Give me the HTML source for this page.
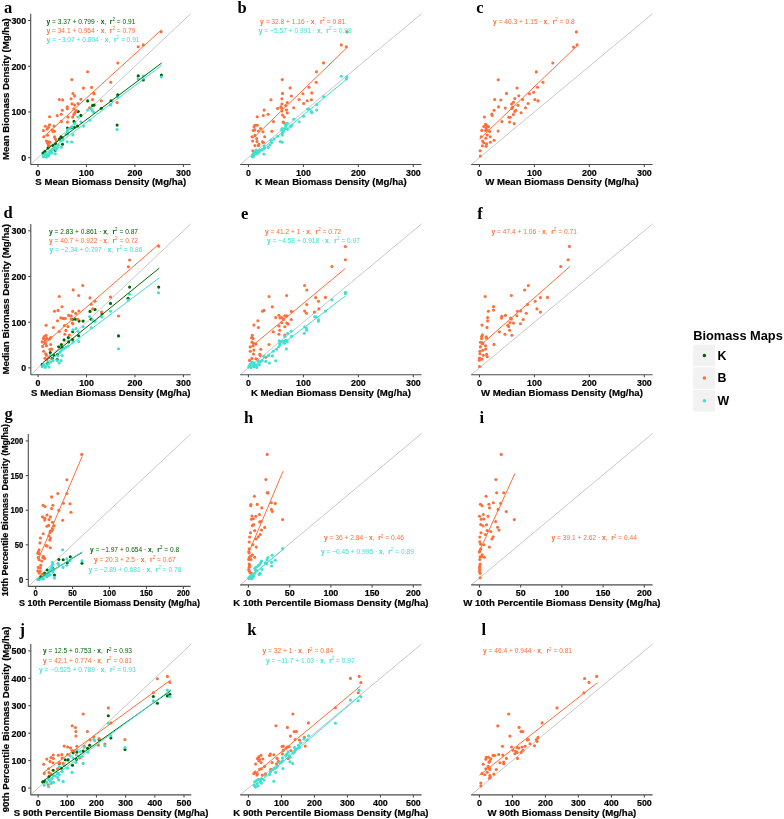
<!DOCTYPE html>
<html><head><meta charset="utf-8"><style>
html,body{margin:0;padding:0;background:#fff;}
svg{display:block;}
text{font-family:"Liberation Sans",Arial,sans-serif;}
.tk{font-size:9.4px;font-weight:bold;fill:#000;stroke:#000;stroke-width:0.2px;}
.tt{font-size:9.65px;font-weight:bold;fill:#000;stroke:#000;stroke-width:0.2px;}
.eq{font-size:7.3px;white-space:pre;}
.lab{font-family:"Liberation Serif","Times New Roman",serif;font-size:16.5px;font-weight:bold;fill:#000;}
.lt{font-size:12.8px;font-weight:bold;fill:#000;}
.lk{font-size:12.4px;font-weight:bold;fill:#000;}
</style></head><body>
<svg width="784" height="819" viewBox="0 0 784 819">
<rect width="784" height="819" fill="#fff"/>
<line x1="30.70" y1="164.50" x2="190.70" y2="13.70" stroke="#b5b5b5" stroke-width="0.75"/>
<circle cx="138.2" cy="75.9" r="1.55" fill="#006400"/>
<circle cx="143.3" cy="80.0" r="1.55" fill="#006400"/>
<circle cx="161.4" cy="75.1" r="1.55" fill="#006400"/>
<circle cx="87.6" cy="100.9" r="1.55" fill="#006400"/>
<circle cx="92.5" cy="105.5" r="1.55" fill="#006400"/>
<circle cx="94.1" cy="105.1" r="1.55" fill="#006400"/>
<circle cx="78.2" cy="111.5" r="1.55" fill="#006400"/>
<circle cx="80.9" cy="115.4" r="1.55" fill="#006400"/>
<circle cx="74.0" cy="121.4" r="1.55" fill="#006400"/>
<circle cx="67.5" cy="128.0" r="1.55" fill="#006400"/>
<circle cx="71.7" cy="127.7" r="1.55" fill="#006400"/>
<circle cx="74.4" cy="127.3" r="1.55" fill="#006400"/>
<circle cx="77.5" cy="126.1" r="1.55" fill="#006400"/>
<circle cx="67.1" cy="133.8" r="1.55" fill="#006400"/>
<circle cx="61.0" cy="136.7" r="1.55" fill="#006400"/>
<circle cx="62.1" cy="137.8" r="1.55" fill="#006400"/>
<circle cx="59.5" cy="139.0" r="1.55" fill="#006400"/>
<circle cx="62.5" cy="144.3" r="1.55" fill="#006400"/>
<circle cx="53.0" cy="145.6" r="1.55" fill="#006400"/>
<circle cx="55.6" cy="143.7" r="1.55" fill="#006400"/>
<circle cx="48.0" cy="147.9" r="1.55" fill="#006400"/>
<circle cx="44.9" cy="151.4" r="1.55" fill="#006400"/>
<circle cx="43.0" cy="153.1" r="1.55" fill="#006400"/>
<circle cx="55.3" cy="150.2" r="1.55" fill="#006400"/>
<circle cx="111.0" cy="100.8" r="1.55" fill="#006400"/>
<circle cx="117.7" cy="94.9" r="1.55" fill="#006400"/>
<circle cx="101.3" cy="108.3" r="1.55" fill="#006400"/>
<circle cx="117.1" cy="125.1" r="1.55" fill="#006400"/>
<circle cx="161.2" cy="31.7" r="1.55" fill="#FF6D38"/>
<circle cx="138.2" cy="46.8" r="1.55" fill="#FF6D38"/>
<circle cx="143.3" cy="44.9" r="1.55" fill="#FF6D38"/>
<circle cx="117.8" cy="63.0" r="1.55" fill="#FF6D38"/>
<circle cx="87.6" cy="71.7" r="1.55" fill="#FF6D38"/>
<circle cx="71.9" cy="79.6" r="1.55" fill="#FF6D38"/>
<circle cx="110.8" cy="82.2" r="1.55" fill="#FF6D38"/>
<circle cx="83.4" cy="88.1" r="1.55" fill="#FF6D38"/>
<circle cx="91.6" cy="87.4" r="1.55" fill="#FF6D38"/>
<circle cx="72.9" cy="93.5" r="1.55" fill="#FF6D38"/>
<circle cx="74.5" cy="95.9" r="1.55" fill="#FF6D38"/>
<circle cx="93.6" cy="93.0" r="1.55" fill="#FF6D38"/>
<circle cx="94.1" cy="93.8" r="1.55" fill="#FF6D38"/>
<circle cx="59.3" cy="99.5" r="1.55" fill="#FF6D38"/>
<circle cx="62.6" cy="99.9" r="1.55" fill="#FF6D38"/>
<circle cx="71.1" cy="98.7" r="1.55" fill="#FF6D38"/>
<circle cx="80.9" cy="99.3" r="1.55" fill="#FF6D38"/>
<circle cx="92.5" cy="99.5" r="1.55" fill="#FF6D38"/>
<circle cx="72.0" cy="103.9" r="1.55" fill="#FF6D38"/>
<circle cx="74.6" cy="105.1" r="1.55" fill="#FF6D38"/>
<circle cx="78.0" cy="103.6" r="1.55" fill="#FF6D38"/>
<circle cx="67.3" cy="106.7" r="1.55" fill="#FF6D38"/>
<circle cx="67.3" cy="108.7" r="1.55" fill="#FF6D38"/>
<circle cx="73.8" cy="108.7" r="1.55" fill="#FF6D38"/>
<circle cx="62.3" cy="110.2" r="1.55" fill="#FF6D38"/>
<circle cx="76.4" cy="110.5" r="1.55" fill="#FF6D38"/>
<circle cx="75.5" cy="111.8" r="1.55" fill="#FF6D38"/>
<circle cx="74.6" cy="113.1" r="1.55" fill="#FF6D38"/>
<circle cx="73.8" cy="114.5" r="1.55" fill="#FF6D38"/>
<circle cx="61.2" cy="114.2" r="1.55" fill="#FF6D38"/>
<circle cx="57.2" cy="115.6" r="1.55" fill="#FF6D38"/>
<circle cx="49.6" cy="116.7" r="1.55" fill="#FF6D38"/>
<circle cx="72.7" cy="117.1" r="1.55" fill="#FF6D38"/>
<circle cx="68.0" cy="117.1" r="1.55" fill="#FF6D38"/>
<circle cx="89.6" cy="107.8" r="1.55" fill="#FF6D38"/>
<circle cx="61.4" cy="121.4" r="1.55" fill="#FF6D38"/>
<circle cx="67.5" cy="122.1" r="1.55" fill="#FF6D38"/>
<circle cx="45.3" cy="126.3" r="1.55" fill="#FF6D38"/>
<circle cx="49.5" cy="124.7" r="1.55" fill="#FF6D38"/>
<circle cx="48.4" cy="127.3" r="1.55" fill="#FF6D38"/>
<circle cx="47.2" cy="129.0" r="1.55" fill="#FF6D38"/>
<circle cx="54.1" cy="126.1" r="1.55" fill="#FF6D38"/>
<circle cx="52.2" cy="129.8" r="1.55" fill="#FF6D38"/>
<circle cx="54.5" cy="131.3" r="1.55" fill="#FF6D38"/>
<circle cx="53.0" cy="131.5" r="1.55" fill="#FF6D38"/>
<circle cx="43.4" cy="130.6" r="1.55" fill="#FF6D38"/>
<circle cx="43.8" cy="136.7" r="1.55" fill="#FF6D38"/>
<circle cx="47.6" cy="135.3" r="1.55" fill="#FF6D38"/>
<circle cx="54.5" cy="136.8" r="1.55" fill="#FF6D38"/>
<circle cx="55.3" cy="138.8" r="1.55" fill="#FF6D38"/>
<circle cx="46.5" cy="141.1" r="1.55" fill="#FF6D38"/>
<circle cx="48.8" cy="141.8" r="1.55" fill="#FF6D38"/>
<circle cx="49.9" cy="142.2" r="1.55" fill="#FF6D38"/>
<circle cx="47.6" cy="143.3" r="1.55" fill="#FF6D38"/>
<circle cx="48.4" cy="144.9" r="1.55" fill="#FF6D38"/>
<circle cx="49.5" cy="146.0" r="1.55" fill="#FF6D38"/>
<circle cx="56.4" cy="140.7" r="1.55" fill="#FF6D38"/>
<circle cx="101.3" cy="100.8" r="1.55" fill="#FF6D38"/>
<circle cx="117.1" cy="102.5" r="1.55" fill="#FF6D38"/>
<circle cx="143.3" cy="76.1" r="1.55" fill="#40E0D0"/>
<circle cx="138.2" cy="78.9" r="1.55" fill="#40E0D0"/>
<circle cx="161.4" cy="77.0" r="1.55" fill="#40E0D0"/>
<circle cx="87.6" cy="110.0" r="1.55" fill="#40E0D0"/>
<circle cx="91.4" cy="109.1" r="1.55" fill="#40E0D0"/>
<circle cx="92.5" cy="110.9" r="1.55" fill="#40E0D0"/>
<circle cx="93.6" cy="112.2" r="1.55" fill="#40E0D0"/>
<circle cx="78.0" cy="117.0" r="1.55" fill="#40E0D0"/>
<circle cx="89.8" cy="120.3" r="1.55" fill="#40E0D0"/>
<circle cx="80.9" cy="121.7" r="1.55" fill="#40E0D0"/>
<circle cx="83.6" cy="126.1" r="1.55" fill="#40E0D0"/>
<circle cx="74.8" cy="123.4" r="1.55" fill="#40E0D0"/>
<circle cx="72.1" cy="126.9" r="1.55" fill="#40E0D0"/>
<circle cx="69.8" cy="128.4" r="1.55" fill="#40E0D0"/>
<circle cx="67.5" cy="129.9" r="1.55" fill="#40E0D0"/>
<circle cx="72.9" cy="134.9" r="1.55" fill="#40E0D0"/>
<circle cx="67.5" cy="131.5" r="1.55" fill="#40E0D0"/>
<circle cx="66.0" cy="134.2" r="1.55" fill="#40E0D0"/>
<circle cx="67.1" cy="141.8" r="1.55" fill="#40E0D0"/>
<circle cx="71.7" cy="142.0" r="1.55" fill="#40E0D0"/>
<circle cx="62.9" cy="139.9" r="1.55" fill="#40E0D0"/>
<circle cx="60.6" cy="140.7" r="1.55" fill="#40E0D0"/>
<circle cx="58.3" cy="145.3" r="1.55" fill="#40E0D0"/>
<circle cx="61.4" cy="147.2" r="1.55" fill="#40E0D0"/>
<circle cx="57.2" cy="147.6" r="1.55" fill="#40E0D0"/>
<circle cx="54.5" cy="147.2" r="1.55" fill="#40E0D0"/>
<circle cx="56.0" cy="149.5" r="1.55" fill="#40E0D0"/>
<circle cx="53.0" cy="149.1" r="1.55" fill="#40E0D0"/>
<circle cx="51.4" cy="150.6" r="1.55" fill="#40E0D0"/>
<circle cx="49.9" cy="152.1" r="1.55" fill="#40E0D0"/>
<circle cx="48.4" cy="153.7" r="1.55" fill="#40E0D0"/>
<circle cx="46.8" cy="155.2" r="1.55" fill="#40E0D0"/>
<circle cx="45.3" cy="153.7" r="1.55" fill="#40E0D0"/>
<circle cx="43.8" cy="155.2" r="1.55" fill="#40E0D0"/>
<circle cx="43.4" cy="156.7" r="1.55" fill="#40E0D0"/>
<circle cx="46.5" cy="157.1" r="1.55" fill="#40E0D0"/>
<circle cx="49.1" cy="154.8" r="1.55" fill="#40E0D0"/>
<circle cx="51.8" cy="152.9" r="1.55" fill="#40E0D0"/>
<circle cx="55.3" cy="153.7" r="1.55" fill="#40E0D0"/>
<circle cx="45.7" cy="156.0" r="1.55" fill="#40E0D0"/>
<circle cx="48.4" cy="156.0" r="1.55" fill="#40E0D0"/>
<circle cx="110.5" cy="104.9" r="1.55" fill="#40E0D0"/>
<circle cx="117.7" cy="97.0" r="1.55" fill="#40E0D0"/>
<circle cx="117.1" cy="129.6" r="1.55" fill="#40E0D0"/>
<line x1="42.82" y1="137.66" x2="161.61" y2="29.73" stroke="#FF6D38" stroke-width="1"/>
<line x1="42.82" y1="152.45" x2="161.61" y2="63.00" stroke="#006400" stroke-width="1"/>
<line x1="42.82" y1="155.37" x2="161.61" y2="65.36" stroke="#40E0D0" stroke-width="1"/>
<line x1="30.70" y1="164.50" x2="190.70" y2="164.50" stroke="#4d4d4d" stroke-width="1.1"/>
<line x1="37.97" y1="164.50" x2="37.97" y2="167.10" stroke="#4d4d4d" stroke-width="1.1"/>
<text transform="translate(37.97 175.60) scale(0.945 1)" text-anchor="middle" class="tk">0</text>
<line x1="86.46" y1="164.50" x2="86.46" y2="167.10" stroke="#4d4d4d" stroke-width="1.1"/>
<text transform="translate(86.46 175.60) scale(0.945 1)" text-anchor="middle" class="tk">100</text>
<line x1="134.94" y1="164.50" x2="134.94" y2="167.10" stroke="#4d4d4d" stroke-width="1.1"/>
<text transform="translate(134.94 175.60) scale(0.945 1)" text-anchor="middle" class="tk">200</text>
<line x1="183.43" y1="164.50" x2="183.43" y2="167.10" stroke="#4d4d4d" stroke-width="1.1"/>
<text transform="translate(183.43 175.60) scale(0.945 1)" text-anchor="middle" class="tk">300</text>
<text transform="translate(110.70 185.30) scale(1.0 1)" text-anchor="middle" class="tt">S Mean Biomass Density (Mg/ha)</text>
<line x1="30.70" y1="164.50" x2="30.70" y2="13.70" stroke="#4d4d4d" stroke-width="1.1"/>
<line x1="28.10" y1="157.65" x2="30.70" y2="157.65" stroke="#4d4d4d" stroke-width="1.1"/>
<text transform="translate(26.20 161.15) scale(0.945 1)" text-anchor="end" class="tk">0</text>
<line x1="28.10" y1="111.95" x2="30.70" y2="111.95" stroke="#4d4d4d" stroke-width="1.1"/>
<text transform="translate(26.20 115.45) scale(0.945 1)" text-anchor="end" class="tk">100</text>
<line x1="28.10" y1="66.25" x2="30.70" y2="66.25" stroke="#4d4d4d" stroke-width="1.1"/>
<text transform="translate(26.20 69.75) scale(0.945 1)" text-anchor="end" class="tk">200</text>
<line x1="28.10" y1="20.55" x2="30.70" y2="20.55" stroke="#4d4d4d" stroke-width="1.1"/>
<text transform="translate(26.20 24.05) scale(0.945 1)" text-anchor="end" class="tk">300</text>
<text transform="translate(8.6 89.10) rotate(-90) scale(1.0 1)" text-anchor="middle" class="tt">Mean Biomass Density (Mg/ha)</text>
<text transform="translate(46.4 23.8) scale(0.91 1)" class="eq" fill="#006400"><tspan font-weight="bold">y</tspan> = 3.37 + 0.799 · <tspan font-weight="bold">x</tspan>,  <tspan font-weight="bold">r</tspan><tspan dy="-2.9" font-size="5.0">2</tspan><tspan dy="2.9"> = 0.91</tspan></text>
<text transform="translate(46.4 32.9) scale(0.91 1)" class="eq" fill="#FF6D38"><tspan font-weight="bold">y</tspan> = 34.1 + 0.964 · <tspan font-weight="bold">x</tspan>,  <tspan font-weight="bold">r</tspan><tspan dy="-2.9" font-size="5.0">2</tspan><tspan dy="2.9"> = 0.79</tspan></text>
<text transform="translate(46.6 41.9) scale(0.91 1)" class="eq" fill="#40E0D0"><tspan font-weight="bold">y</tspan> = −3.07 + 0.804 · <tspan font-weight="bold">x</tspan>,  <tspan font-weight="bold">r</tspan><tspan dy="-2.9" font-size="5.0">2</tspan><tspan dy="2.9"> = 0.91</tspan></text>
<text x="4.0" y="12.9" class="lab">a</text>
<line x1="240.20" y1="164.50" x2="421.60" y2="13.70" stroke="#b5b5b5" stroke-width="0.75"/>
<circle cx="346.9" cy="31.9" r="1.55" fill="#FF6D38"/>
<circle cx="341.3" cy="44.9" r="1.55" fill="#FF6D38"/>
<circle cx="346.3" cy="46.8" r="1.55" fill="#FF6D38"/>
<circle cx="323.5" cy="62.9" r="1.55" fill="#FF6D38"/>
<circle cx="316.5" cy="71.7" r="1.55" fill="#FF6D38"/>
<circle cx="282.2" cy="79.6" r="1.55" fill="#FF6D38"/>
<circle cx="316.2" cy="82.2" r="1.55" fill="#FF6D38"/>
<circle cx="290.1" cy="87.9" r="1.55" fill="#FF6D38"/>
<circle cx="309.0" cy="87.3" r="1.55" fill="#FF6D38"/>
<circle cx="282.5" cy="93.4" r="1.55" fill="#FF6D38"/>
<circle cx="291.4" cy="96.0" r="1.55" fill="#FF6D38"/>
<circle cx="302.9" cy="93.7" r="1.55" fill="#FF6D38"/>
<circle cx="311.8" cy="92.9" r="1.55" fill="#FF6D38"/>
<circle cx="271.0" cy="99.8" r="1.55" fill="#FF6D38"/>
<circle cx="281.9" cy="98.7" r="1.55" fill="#FF6D38"/>
<circle cx="299.1" cy="99.5" r="1.55" fill="#FF6D38"/>
<circle cx="307.2" cy="100.8" r="1.55" fill="#FF6D38"/>
<circle cx="311.4" cy="99.7" r="1.55" fill="#FF6D38"/>
<circle cx="303.7" cy="103.5" r="1.55" fill="#FF6D38"/>
<circle cx="281.9" cy="104.0" r="1.55" fill="#FF6D38"/>
<circle cx="287.3" cy="102.6" r="1.55" fill="#FF6D38"/>
<circle cx="285.7" cy="105.5" r="1.55" fill="#FF6D38"/>
<circle cx="280.8" cy="106.9" r="1.55" fill="#FF6D38"/>
<circle cx="281.6" cy="108.1" r="1.55" fill="#FF6D38"/>
<circle cx="277.6" cy="108.4" r="1.55" fill="#FF6D38"/>
<circle cx="293.7" cy="107.7" r="1.55" fill="#FF6D38"/>
<circle cx="264.1" cy="110.1" r="1.55" fill="#FF6D38"/>
<circle cx="286.5" cy="110.1" r="1.55" fill="#FF6D38"/>
<circle cx="287.3" cy="113.0" r="1.55" fill="#FF6D38"/>
<circle cx="281.9" cy="110.9" r="1.55" fill="#FF6D38"/>
<circle cx="268.1" cy="114.2" r="1.55" fill="#FF6D38"/>
<circle cx="263.3" cy="115.5" r="1.55" fill="#FF6D38"/>
<circle cx="257.2" cy="116.7" r="1.55" fill="#FF6D38"/>
<circle cx="282.5" cy="115.0" r="1.55" fill="#FF6D38"/>
<circle cx="284.2" cy="117.0" r="1.55" fill="#FF6D38"/>
<circle cx="273.5" cy="121.6" r="1.55" fill="#FF6D38"/>
<circle cx="283.1" cy="122.1" r="1.55" fill="#FF6D38"/>
<circle cx="284.2" cy="123.0" r="1.55" fill="#FF6D38"/>
<circle cx="254.9" cy="125.3" r="1.55" fill="#FF6D38"/>
<circle cx="257.2" cy="125.3" r="1.55" fill="#FF6D38"/>
<circle cx="254.0" cy="127.0" r="1.55" fill="#FF6D38"/>
<circle cx="260.7" cy="128.5" r="1.55" fill="#FF6D38"/>
<circle cx="254.7" cy="129.9" r="1.55" fill="#FF6D38"/>
<circle cx="253.2" cy="130.5" r="1.55" fill="#FF6D38"/>
<circle cx="258.4" cy="131.0" r="1.55" fill="#FF6D38"/>
<circle cx="263.0" cy="131.8" r="1.55" fill="#FF6D38"/>
<circle cx="271.9" cy="131.3" r="1.55" fill="#FF6D38"/>
<circle cx="252.1" cy="136.8" r="1.55" fill="#FF6D38"/>
<circle cx="254.9" cy="135.4" r="1.55" fill="#FF6D38"/>
<circle cx="264.7" cy="136.8" r="1.55" fill="#FF6D38"/>
<circle cx="256.6" cy="138.5" r="1.55" fill="#FF6D38"/>
<circle cx="252.6" cy="141.1" r="1.55" fill="#FF6D38"/>
<circle cx="257.0" cy="141.4" r="1.55" fill="#FF6D38"/>
<circle cx="262.4" cy="141.9" r="1.55" fill="#FF6D38"/>
<circle cx="263.5" cy="142.5" r="1.55" fill="#FF6D38"/>
<circle cx="258.9" cy="144.2" r="1.55" fill="#FF6D38"/>
<circle cx="254.9" cy="145.6" r="1.55" fill="#FF6D38"/>
<circle cx="258.4" cy="145.7" r="1.55" fill="#FF6D38"/>
<circle cx="252.9" cy="150.8" r="1.55" fill="#FF6D38"/>
<circle cx="341.3" cy="76.3" r="1.55" fill="#40E0D0"/>
<circle cx="346.9" cy="76.9" r="1.55" fill="#40E0D0"/>
<circle cx="346.3" cy="79.0" r="1.55" fill="#40E0D0"/>
<circle cx="323.6" cy="96.6" r="1.55" fill="#40E0D0"/>
<circle cx="316.7" cy="104.6" r="1.55" fill="#40E0D0"/>
<circle cx="316.7" cy="110.1" r="1.55" fill="#40E0D0"/>
<circle cx="307.7" cy="109.0" r="1.55" fill="#40E0D0"/>
<circle cx="309.1" cy="109.2" r="1.55" fill="#40E0D0"/>
<circle cx="311.4" cy="111.5" r="1.55" fill="#40E0D0"/>
<circle cx="311.8" cy="112.7" r="1.55" fill="#40E0D0"/>
<circle cx="303.7" cy="116.3" r="1.55" fill="#40E0D0"/>
<circle cx="299.1" cy="121.8" r="1.55" fill="#40E0D0"/>
<circle cx="293.7" cy="119.3" r="1.55" fill="#40E0D0"/>
<circle cx="291.7" cy="125.3" r="1.55" fill="#40E0D0"/>
<circle cx="290.5" cy="126.4" r="1.55" fill="#40E0D0"/>
<circle cx="287.3" cy="123.2" r="1.55" fill="#40E0D0"/>
<circle cx="285.7" cy="124.7" r="1.55" fill="#40E0D0"/>
<circle cx="285.9" cy="126.4" r="1.55" fill="#40E0D0"/>
<circle cx="287.6" cy="129.3" r="1.55" fill="#40E0D0"/>
<circle cx="282.2" cy="128.5" r="1.55" fill="#40E0D0"/>
<circle cx="281.6" cy="129.9" r="1.55" fill="#40E0D0"/>
<circle cx="283.4" cy="131.6" r="1.55" fill="#40E0D0"/>
<circle cx="282.5" cy="132.8" r="1.55" fill="#40E0D0"/>
<circle cx="282.2" cy="135.1" r="1.55" fill="#40E0D0"/>
<circle cx="284.8" cy="128.7" r="1.55" fill="#40E0D0"/>
<circle cx="277.6" cy="136.2" r="1.55" fill="#40E0D0"/>
<circle cx="274.0" cy="139.1" r="1.55" fill="#40E0D0"/>
<circle cx="271.0" cy="140.2" r="1.55" fill="#40E0D0"/>
<circle cx="271.6" cy="142.5" r="1.55" fill="#40E0D0"/>
<circle cx="270.1" cy="145.0" r="1.55" fill="#40E0D0"/>
<circle cx="268.1" cy="147.4" r="1.55" fill="#40E0D0"/>
<circle cx="280.2" cy="141.6" r="1.55" fill="#40E0D0"/>
<circle cx="282.2" cy="142.3" r="1.55" fill="#40E0D0"/>
<circle cx="264.1" cy="145.9" r="1.55" fill="#40E0D0"/>
<circle cx="264.7" cy="148.2" r="1.55" fill="#40E0D0"/>
<circle cx="263.0" cy="149.2" r="1.55" fill="#40E0D0"/>
<circle cx="261.2" cy="150.0" r="1.55" fill="#40E0D0"/>
<circle cx="259.5" cy="150.6" r="1.55" fill="#40E0D0"/>
<circle cx="257.2" cy="151.1" r="1.55" fill="#40E0D0"/>
<circle cx="256.1" cy="150.0" r="1.55" fill="#40E0D0"/>
<circle cx="254.9" cy="151.7" r="1.55" fill="#40E0D0"/>
<circle cx="253.8" cy="152.8" r="1.55" fill="#40E0D0"/>
<circle cx="252.6" cy="154.6" r="1.55" fill="#40E0D0"/>
<circle cx="252.1" cy="156.3" r="1.55" fill="#40E0D0"/>
<circle cx="254.3" cy="155.1" r="1.55" fill="#40E0D0"/>
<circle cx="257.2" cy="154.0" r="1.55" fill="#40E0D0"/>
<circle cx="258.9" cy="152.3" r="1.55" fill="#40E0D0"/>
<circle cx="263.9" cy="154.0" r="1.55" fill="#40E0D0"/>
<circle cx="256.1" cy="152.8" r="1.55" fill="#40E0D0"/>
<circle cx="253.2" cy="156.9" r="1.55" fill="#40E0D0"/>
<line x1="252.84" y1="138.42" x2="347.39" y2="47.24" stroke="#FF6D38" stroke-width="1"/>
<line x1="252.84" y1="156.57" x2="347.39" y2="78.68" stroke="#40E0D0" stroke-width="1"/>
<line x1="240.20" y1="164.50" x2="421.60" y2="164.50" stroke="#4d4d4d" stroke-width="1.1"/>
<line x1="248.45" y1="164.50" x2="248.45" y2="167.10" stroke="#4d4d4d" stroke-width="1.1"/>
<text transform="translate(248.45 175.60) scale(0.945 1)" text-anchor="middle" class="tk">0</text>
<line x1="303.42" y1="164.50" x2="303.42" y2="167.10" stroke="#4d4d4d" stroke-width="1.1"/>
<text transform="translate(303.42 175.60) scale(0.945 1)" text-anchor="middle" class="tk">100</text>
<line x1="358.38" y1="164.50" x2="358.38" y2="167.10" stroke="#4d4d4d" stroke-width="1.1"/>
<text transform="translate(358.38 175.60) scale(0.945 1)" text-anchor="middle" class="tk">200</text>
<line x1="413.35" y1="164.50" x2="413.35" y2="167.10" stroke="#4d4d4d" stroke-width="1.1"/>
<text transform="translate(413.35 175.60) scale(0.945 1)" text-anchor="middle" class="tk">300</text>
<text transform="translate(330.90 185.30) scale(1.0 1)" text-anchor="middle" class="tt">K Mean Biomass Density (Mg/ha)</text>
<text transform="translate(260.1 23.8) scale(0.91 1)" class="eq" fill="#FF6D38"><tspan font-weight="bold">y</tspan> = 32.8 + 1.16 · <tspan font-weight="bold">x</tspan>,  <tspan font-weight="bold">r</tspan><tspan dy="-2.9" font-size="5.0">2</tspan><tspan dy="2.9"> = 0.81</tspan></text>
<text transform="translate(258.8 32.9) scale(0.91 1)" class="eq" fill="#40E0D0"><tspan font-weight="bold">y</tspan> = −5.57 + 0.991 · <tspan font-weight="bold">x</tspan>,  <tspan font-weight="bold">r</tspan><tspan dy="-2.9" font-size="5.0">2</tspan><tspan dy="2.9"> = 0.98</tspan></text>
<text x="237.6" y="12.8" class="lab">b</text>
<line x1="471.20" y1="164.50" x2="652.60" y2="13.70" stroke="#b5b5b5" stroke-width="0.75"/>
<circle cx="576.4" cy="31.9" r="1.55" fill="#FF6D38"/>
<circle cx="573.6" cy="47.1" r="1.55" fill="#FF6D38"/>
<circle cx="577.1" cy="44.8" r="1.55" fill="#FF6D38"/>
<circle cx="552.8" cy="63.0" r="1.55" fill="#FF6D38"/>
<circle cx="536.3" cy="71.9" r="1.55" fill="#FF6D38"/>
<circle cx="498.2" cy="79.7" r="1.55" fill="#FF6D38"/>
<circle cx="543.0" cy="82.3" r="1.55" fill="#FF6D38"/>
<circle cx="517.0" cy="88.0" r="1.55" fill="#FF6D38"/>
<circle cx="537.5" cy="87.3" r="1.55" fill="#FF6D38"/>
<circle cx="506.5" cy="93.4" r="1.55" fill="#FF6D38"/>
<circle cx="518.8" cy="95.7" r="1.55" fill="#FF6D38"/>
<circle cx="533.7" cy="92.3" r="1.55" fill="#FF6D38"/>
<circle cx="529.5" cy="93.8" r="1.55" fill="#FF6D38"/>
<circle cx="494.7" cy="99.5" r="1.55" fill="#FF6D38"/>
<circle cx="500.8" cy="100.0" r="1.55" fill="#FF6D38"/>
<circle cx="514.8" cy="98.6" r="1.55" fill="#FF6D38"/>
<circle cx="522.6" cy="99.5" r="1.55" fill="#FF6D38"/>
<circle cx="534.9" cy="99.5" r="1.55" fill="#FF6D38"/>
<circle cx="538.0" cy="100.9" r="1.55" fill="#FF6D38"/>
<circle cx="513.4" cy="102.3" r="1.55" fill="#FF6D38"/>
<circle cx="511.6" cy="104.0" r="1.55" fill="#FF6D38"/>
<circle cx="518.0" cy="105.2" r="1.55" fill="#FF6D38"/>
<circle cx="528.1" cy="103.5" r="1.55" fill="#FF6D38"/>
<circle cx="498.5" cy="106.9" r="1.55" fill="#FF6D38"/>
<circle cx="505.2" cy="108.1" r="1.55" fill="#FF6D38"/>
<circle cx="512.5" cy="107.2" r="1.55" fill="#FF6D38"/>
<circle cx="511.9" cy="108.6" r="1.55" fill="#FF6D38"/>
<circle cx="525.5" cy="107.8" r="1.55" fill="#FF6D38"/>
<circle cx="494.1" cy="110.3" r="1.55" fill="#FF6D38"/>
<circle cx="515.9" cy="110.3" r="1.55" fill="#FF6D38"/>
<circle cx="514.8" cy="111.5" r="1.55" fill="#FF6D38"/>
<circle cx="521.1" cy="112.7" r="1.55" fill="#FF6D38"/>
<circle cx="491.8" cy="114.1" r="1.55" fill="#FF6D38"/>
<circle cx="492.2" cy="115.5" r="1.55" fill="#FF6D38"/>
<circle cx="513.3" cy="114.5" r="1.55" fill="#FF6D38"/>
<circle cx="484.4" cy="117.0" r="1.55" fill="#FF6D38"/>
<circle cx="508.8" cy="117.2" r="1.55" fill="#FF6D38"/>
<circle cx="510.2" cy="117.2" r="1.55" fill="#FF6D38"/>
<circle cx="501.9" cy="121.6" r="1.55" fill="#FF6D38"/>
<circle cx="509.6" cy="122.1" r="1.55" fill="#FF6D38"/>
<circle cx="514.2" cy="123.6" r="1.55" fill="#FF6D38"/>
<circle cx="485.5" cy="124.4" r="1.55" fill="#FF6D38"/>
<circle cx="483.8" cy="126.5" r="1.55" fill="#FF6D38"/>
<circle cx="487.2" cy="125.8" r="1.55" fill="#FF6D38"/>
<circle cx="488.4" cy="126.7" r="1.55" fill="#FF6D38"/>
<circle cx="486.1" cy="127.9" r="1.55" fill="#FF6D38"/>
<circle cx="481.8" cy="130.4" r="1.55" fill="#FF6D38"/>
<circle cx="485.5" cy="130.4" r="1.55" fill="#FF6D38"/>
<circle cx="487.4" cy="130.2" r="1.55" fill="#FF6D38"/>
<circle cx="489.7" cy="131.6" r="1.55" fill="#FF6D38"/>
<circle cx="498.1" cy="131.1" r="1.55" fill="#FF6D38"/>
<circle cx="481.2" cy="136.8" r="1.55" fill="#FF6D38"/>
<circle cx="487.2" cy="135.1" r="1.55" fill="#FF6D38"/>
<circle cx="490.3" cy="136.8" r="1.55" fill="#FF6D38"/>
<circle cx="485.8" cy="138.2" r="1.55" fill="#FF6D38"/>
<circle cx="482.6" cy="141.1" r="1.55" fill="#FF6D38"/>
<circle cx="494.1" cy="140.3" r="1.55" fill="#FF6D38"/>
<circle cx="483.8" cy="142.8" r="1.55" fill="#FF6D38"/>
<circle cx="486.6" cy="143.9" r="1.55" fill="#FF6D38"/>
<circle cx="490.3" cy="142.2" r="1.55" fill="#FF6D38"/>
<circle cx="482.4" cy="145.7" r="1.55" fill="#FF6D38"/>
<circle cx="486.1" cy="146.2" r="1.55" fill="#FF6D38"/>
<circle cx="480.1" cy="150.8" r="1.55" fill="#FF6D38"/>
<circle cx="480.3" cy="156.0" r="1.55" fill="#FF6D38"/>
<line x1="479.45" y1="139.23" x2="577.29" y2="45.69" stroke="#FF6D38" stroke-width="1"/>
<line x1="471.20" y1="164.50" x2="652.60" y2="164.50" stroke="#4d4d4d" stroke-width="1.1"/>
<line x1="479.45" y1="164.50" x2="479.45" y2="167.10" stroke="#4d4d4d" stroke-width="1.1"/>
<text transform="translate(479.45 175.60) scale(0.945 1)" text-anchor="middle" class="tk">0</text>
<line x1="534.42" y1="164.50" x2="534.42" y2="167.10" stroke="#4d4d4d" stroke-width="1.1"/>
<text transform="translate(534.42 175.60) scale(0.945 1)" text-anchor="middle" class="tk">100</text>
<line x1="589.38" y1="164.50" x2="589.38" y2="167.10" stroke="#4d4d4d" stroke-width="1.1"/>
<text transform="translate(589.38 175.60) scale(0.945 1)" text-anchor="middle" class="tk">200</text>
<line x1="644.35" y1="164.50" x2="644.35" y2="167.10" stroke="#4d4d4d" stroke-width="1.1"/>
<text transform="translate(644.35 175.60) scale(0.945 1)" text-anchor="middle" class="tk">300</text>
<text transform="translate(561.90 185.30) scale(1.0 1)" text-anchor="middle" class="tt">W Mean Biomass Density (Mg/ha)</text>
<text transform="translate(493.0 23.8) scale(0.91 1)" class="eq" fill="#FF6D38"><tspan font-weight="bold">y</tspan> = 40.3 + 1.15 · <tspan font-weight="bold">x</tspan>,  <tspan font-weight="bold">r</tspan><tspan dy="-2.9" font-size="5.0">2</tspan><tspan dy="2.9"> = 0.8</tspan></text>
<text x="476.3" y="12.8" class="lab">c</text>
<line x1="30.80" y1="374.70" x2="190.70" y2="223.90" stroke="#b5b5b5" stroke-width="0.75"/>
<circle cx="129.6" cy="287.1" r="1.55" fill="#006400"/>
<circle cx="158.7" cy="287.1" r="1.55" fill="#006400"/>
<circle cx="90.0" cy="311.4" r="1.55" fill="#006400"/>
<circle cx="95.0" cy="309.5" r="1.55" fill="#006400"/>
<circle cx="72.7" cy="319.3" r="1.55" fill="#006400"/>
<circle cx="75.4" cy="319.3" r="1.55" fill="#006400"/>
<circle cx="79.1" cy="321.1" r="1.55" fill="#006400"/>
<circle cx="83.1" cy="321.1" r="1.55" fill="#006400"/>
<circle cx="91.2" cy="319.3" r="1.55" fill="#006400"/>
<circle cx="72.7" cy="331.8" r="1.55" fill="#006400"/>
<circle cx="68.3" cy="337.6" r="1.55" fill="#006400"/>
<circle cx="78.6" cy="335.7" r="1.55" fill="#006400"/>
<circle cx="64.1" cy="339.9" r="1.55" fill="#006400"/>
<circle cx="68.7" cy="341.9" r="1.55" fill="#006400"/>
<circle cx="72.5" cy="339.6" r="1.55" fill="#006400"/>
<circle cx="61.4" cy="344.5" r="1.55" fill="#006400"/>
<circle cx="58.7" cy="346.8" r="1.55" fill="#006400"/>
<circle cx="62.1" cy="347.2" r="1.55" fill="#006400"/>
<circle cx="50.3" cy="352.6" r="1.55" fill="#006400"/>
<circle cx="54.1" cy="355.6" r="1.55" fill="#006400"/>
<circle cx="57.5" cy="354.5" r="1.55" fill="#006400"/>
<circle cx="52.2" cy="358.3" r="1.55" fill="#006400"/>
<circle cx="57.2" cy="359.5" r="1.55" fill="#006400"/>
<circle cx="47.6" cy="362.9" r="1.55" fill="#006400"/>
<circle cx="42.2" cy="364.4" r="1.55" fill="#006400"/>
<circle cx="128.1" cy="298.2" r="1.55" fill="#006400"/>
<circle cx="110.5" cy="303.4" r="1.55" fill="#006400"/>
<circle cx="102.0" cy="313.7" r="1.55" fill="#006400"/>
<circle cx="118.5" cy="335.9" r="1.55" fill="#006400"/>
<circle cx="158.7" cy="246.3" r="1.55" fill="#FF6D38"/>
<circle cx="129.6" cy="260.0" r="1.55" fill="#FF6D38"/>
<circle cx="128.4" cy="266.7" r="1.55" fill="#FF6D38"/>
<circle cx="82.8" cy="285.5" r="1.55" fill="#FF6D38"/>
<circle cx="73.2" cy="289.9" r="1.55" fill="#FF6D38"/>
<circle cx="59.3" cy="296.5" r="1.55" fill="#FF6D38"/>
<circle cx="78.7" cy="295.5" r="1.55" fill="#FF6D38"/>
<circle cx="90.0" cy="297.9" r="1.55" fill="#FF6D38"/>
<circle cx="95.0" cy="301.2" r="1.55" fill="#FF6D38"/>
<circle cx="91.2" cy="304.3" r="1.55" fill="#FF6D38"/>
<circle cx="62.0" cy="306.8" r="1.55" fill="#FF6D38"/>
<circle cx="54.5" cy="311.2" r="1.55" fill="#FF6D38"/>
<circle cx="58.1" cy="310.4" r="1.55" fill="#FF6D38"/>
<circle cx="72.7" cy="311.4" r="1.55" fill="#FF6D38"/>
<circle cx="78.9" cy="311.0" r="1.55" fill="#FF6D38"/>
<circle cx="75.7" cy="313.4" r="1.55" fill="#FF6D38"/>
<circle cx="92.7" cy="308.9" r="1.55" fill="#FF6D38"/>
<circle cx="68.6" cy="315.4" r="1.55" fill="#FF6D38"/>
<circle cx="71.2" cy="315.9" r="1.55" fill="#FF6D38"/>
<circle cx="60.8" cy="317.9" r="1.55" fill="#FF6D38"/>
<circle cx="63.0" cy="318.4" r="1.55" fill="#FF6D38"/>
<circle cx="65.3" cy="318.4" r="1.55" fill="#FF6D38"/>
<circle cx="57.5" cy="320.8" r="1.55" fill="#FF6D38"/>
<circle cx="71.1" cy="319.0" r="1.55" fill="#FF6D38"/>
<circle cx="77.8" cy="319.3" r="1.55" fill="#FF6D38"/>
<circle cx="72.4" cy="323.0" r="1.55" fill="#FF6D38"/>
<circle cx="72.9" cy="323.8" r="1.55" fill="#FF6D38"/>
<circle cx="46.1" cy="325.3" r="1.55" fill="#FF6D38"/>
<circle cx="64.4" cy="325.5" r="1.55" fill="#FF6D38"/>
<circle cx="53.4" cy="327.5" r="1.55" fill="#FF6D38"/>
<circle cx="68.0" cy="326.6" r="1.55" fill="#FF6D38"/>
<circle cx="65.9" cy="330.4" r="1.55" fill="#FF6D38"/>
<circle cx="59.3" cy="331.5" r="1.55" fill="#FF6D38"/>
<circle cx="64.8" cy="334.2" r="1.55" fill="#FF6D38"/>
<circle cx="69.4" cy="335.0" r="1.55" fill="#FF6D38"/>
<circle cx="46.1" cy="335.4" r="1.55" fill="#FF6D38"/>
<circle cx="44.2" cy="336.5" r="1.55" fill="#FF6D38"/>
<circle cx="43.4" cy="338.4" r="1.55" fill="#FF6D38"/>
<circle cx="46.8" cy="338.4" r="1.55" fill="#FF6D38"/>
<circle cx="45.3" cy="339.9" r="1.55" fill="#FF6D38"/>
<circle cx="50.7" cy="337.6" r="1.55" fill="#FF6D38"/>
<circle cx="49.1" cy="339.2" r="1.55" fill="#FF6D38"/>
<circle cx="42.2" cy="341.9" r="1.55" fill="#FF6D38"/>
<circle cx="44.5" cy="342.2" r="1.55" fill="#FF6D38"/>
<circle cx="45.7" cy="343.8" r="1.55" fill="#FF6D38"/>
<circle cx="46.5" cy="345.7" r="1.55" fill="#FF6D38"/>
<circle cx="42.6" cy="346.4" r="1.55" fill="#FF6D38"/>
<circle cx="50.7" cy="344.5" r="1.55" fill="#FF6D38"/>
<circle cx="49.9" cy="349.5" r="1.55" fill="#FF6D38"/>
<circle cx="51.8" cy="349.1" r="1.55" fill="#FF6D38"/>
<circle cx="43.6" cy="351.3" r="1.55" fill="#FF6D38"/>
<circle cx="45.7" cy="353.7" r="1.55" fill="#FF6D38"/>
<circle cx="46.5" cy="355.3" r="1.55" fill="#FF6D38"/>
<circle cx="44.9" cy="358.3" r="1.55" fill="#FF6D38"/>
<circle cx="48.8" cy="357.6" r="1.55" fill="#FF6D38"/>
<circle cx="46.8" cy="359.5" r="1.55" fill="#FF6D38"/>
<circle cx="110.5" cy="297.1" r="1.55" fill="#FF6D38"/>
<circle cx="101.7" cy="312.0" r="1.55" fill="#FF6D38"/>
<circle cx="118.5" cy="316.0" r="1.55" fill="#FF6D38"/>
<circle cx="89.6" cy="316.6" r="1.55" fill="#40E0D0"/>
<circle cx="92.5" cy="319.9" r="1.55" fill="#40E0D0"/>
<circle cx="95.2" cy="321.4" r="1.55" fill="#40E0D0"/>
<circle cx="83.1" cy="326.8" r="1.55" fill="#40E0D0"/>
<circle cx="91.4" cy="327.7" r="1.55" fill="#40E0D0"/>
<circle cx="72.9" cy="329.7" r="1.55" fill="#40E0D0"/>
<circle cx="76.0" cy="328.6" r="1.55" fill="#40E0D0"/>
<circle cx="78.2" cy="331.5" r="1.55" fill="#40E0D0"/>
<circle cx="78.6" cy="341.5" r="1.55" fill="#40E0D0"/>
<circle cx="72.9" cy="342.2" r="1.55" fill="#40E0D0"/>
<circle cx="68.3" cy="346.1" r="1.55" fill="#40E0D0"/>
<circle cx="66.0" cy="347.2" r="1.55" fill="#40E0D0"/>
<circle cx="63.7" cy="348.8" r="1.55" fill="#40E0D0"/>
<circle cx="61.4" cy="350.3" r="1.55" fill="#40E0D0"/>
<circle cx="59.9" cy="352.2" r="1.55" fill="#40E0D0"/>
<circle cx="57.9" cy="356.0" r="1.55" fill="#40E0D0"/>
<circle cx="62.1" cy="355.6" r="1.55" fill="#40E0D0"/>
<circle cx="61.0" cy="360.6" r="1.55" fill="#40E0D0"/>
<circle cx="59.1" cy="362.9" r="1.55" fill="#40E0D0"/>
<circle cx="57.2" cy="360.6" r="1.55" fill="#40E0D0"/>
<circle cx="53.0" cy="360.6" r="1.55" fill="#40E0D0"/>
<circle cx="50.3" cy="355.3" r="1.55" fill="#40E0D0"/>
<circle cx="50.7" cy="362.1" r="1.55" fill="#40E0D0"/>
<circle cx="48.4" cy="363.7" r="1.55" fill="#40E0D0"/>
<circle cx="46.8" cy="365.2" r="1.55" fill="#40E0D0"/>
<circle cx="44.5" cy="366.0" r="1.55" fill="#40E0D0"/>
<circle cx="42.2" cy="366.7" r="1.55" fill="#40E0D0"/>
<circle cx="45.3" cy="367.5" r="1.55" fill="#40E0D0"/>
<circle cx="49.1" cy="367.1" r="1.55" fill="#40E0D0"/>
<circle cx="43.4" cy="364.8" r="1.55" fill="#40E0D0"/>
<circle cx="129.5" cy="294.2" r="1.55" fill="#40E0D0"/>
<circle cx="158.5" cy="292.8" r="1.55" fill="#40E0D0"/>
<circle cx="128.1" cy="300.1" r="1.55" fill="#40E0D0"/>
<circle cx="110.5" cy="311.2" r="1.55" fill="#40E0D0"/>
<circle cx="101.7" cy="316.9" r="1.55" fill="#40E0D0"/>
<circle cx="118.5" cy="348.7" r="1.55" fill="#40E0D0"/>
<line x1="42.91" y1="345.03" x2="159.20" y2="243.92" stroke="#FF6D38" stroke-width="1"/>
<line x1="42.91" y1="362.62" x2="159.20" y2="268.19" stroke="#006400" stroke-width="1"/>
<line x1="42.91" y1="365.27" x2="159.20" y2="277.86" stroke="#40E0D0" stroke-width="1"/>
<line x1="30.80" y1="374.70" x2="190.70" y2="374.70" stroke="#4d4d4d" stroke-width="1.1"/>
<line x1="38.07" y1="374.70" x2="38.07" y2="377.30" stroke="#4d4d4d" stroke-width="1.1"/>
<text transform="translate(38.07 385.80) scale(0.945 1)" text-anchor="middle" class="tk">0</text>
<line x1="86.52" y1="374.70" x2="86.52" y2="377.30" stroke="#4d4d4d" stroke-width="1.1"/>
<text transform="translate(86.52 385.80) scale(0.945 1)" text-anchor="middle" class="tk">100</text>
<line x1="134.98" y1="374.70" x2="134.98" y2="377.30" stroke="#4d4d4d" stroke-width="1.1"/>
<text transform="translate(134.98 385.80) scale(0.945 1)" text-anchor="middle" class="tk">200</text>
<line x1="183.43" y1="374.70" x2="183.43" y2="377.30" stroke="#4d4d4d" stroke-width="1.1"/>
<text transform="translate(183.43 385.80) scale(0.945 1)" text-anchor="middle" class="tk">300</text>
<text transform="translate(110.75 395.50) scale(1.0 1)" text-anchor="middle" class="tt">S Median Biomass Density (Mg/ha)</text>
<line x1="30.80" y1="374.70" x2="30.80" y2="223.90" stroke="#4d4d4d" stroke-width="1.1"/>
<line x1="28.20" y1="367.85" x2="30.80" y2="367.85" stroke="#4d4d4d" stroke-width="1.1"/>
<text transform="translate(26.30 371.35) scale(0.945 1)" text-anchor="end" class="tk">0</text>
<line x1="28.20" y1="322.15" x2="30.80" y2="322.15" stroke="#4d4d4d" stroke-width="1.1"/>
<text transform="translate(26.30 325.65) scale(0.945 1)" text-anchor="end" class="tk">100</text>
<line x1="28.20" y1="276.45" x2="30.80" y2="276.45" stroke="#4d4d4d" stroke-width="1.1"/>
<text transform="translate(26.30 279.95) scale(0.945 1)" text-anchor="end" class="tk">200</text>
<line x1="28.20" y1="230.75" x2="30.80" y2="230.75" stroke="#4d4d4d" stroke-width="1.1"/>
<text transform="translate(26.30 234.25) scale(0.945 1)" text-anchor="end" class="tk">300</text>
<text transform="translate(8.6 299.30) rotate(-90) scale(1.0 1)" text-anchor="middle" class="tt">Median Biomass Density (Mg/ha)</text>
<text transform="translate(49.0 233.9) scale(0.91 1)" class="eq" fill="#006400"><tspan font-weight="bold">y</tspan> = 2.83 + 0.861 · <tspan font-weight="bold">x</tspan>,  <tspan font-weight="bold">r</tspan><tspan dy="-2.9" font-size="5.0">2</tspan><tspan dy="2.9"> = 0.87</tspan></text>
<text transform="translate(49.0 242.9) scale(0.91 1)" class="eq" fill="#FF6D38"><tspan font-weight="bold">y</tspan> = 40.7 + 0.922 · <tspan font-weight="bold">x</tspan>,  <tspan font-weight="bold">r</tspan><tspan dy="-2.9" font-size="5.0">2</tspan><tspan dy="2.9"> = 0.72</tspan></text>
<text transform="translate(49.5 251.9) scale(0.91 1)" class="eq" fill="#40E0D0"><tspan font-weight="bold">y</tspan> = −2.34 + 0.797 · <tspan font-weight="bold">x</tspan>,  <tspan font-weight="bold">r</tspan><tspan dy="-2.9" font-size="5.0">2</tspan><tspan dy="2.9"> = 0.86</tspan></text>
<text x="3.6" y="218.4" class="lab">d</text>
<line x1="240.20" y1="374.70" x2="421.60" y2="223.90" stroke="#b5b5b5" stroke-width="0.75"/>
<circle cx="345.4" cy="246.6" r="1.55" fill="#FF6D38"/>
<circle cx="345.4" cy="259.8" r="1.55" fill="#FF6D38"/>
<circle cx="331.9" cy="266.5" r="1.55" fill="#FF6D38"/>
<circle cx="304.6" cy="285.5" r="1.55" fill="#FF6D38"/>
<circle cx="306.8" cy="290.0" r="1.55" fill="#FF6D38"/>
<circle cx="269.1" cy="296.5" r="1.55" fill="#FF6D38"/>
<circle cx="286.6" cy="295.5" r="1.55" fill="#FF6D38"/>
<circle cx="315.7" cy="297.6" r="1.55" fill="#FF6D38"/>
<circle cx="318.5" cy="301.2" r="1.55" fill="#FF6D38"/>
<circle cx="325.5" cy="297.4" r="1.55" fill="#FF6D38"/>
<circle cx="272.3" cy="306.7" r="1.55" fill="#FF6D38"/>
<circle cx="306.8" cy="304.5" r="1.55" fill="#FF6D38"/>
<circle cx="262.5" cy="311.2" r="1.55" fill="#FF6D38"/>
<circle cx="264.0" cy="310.4" r="1.55" fill="#FF6D38"/>
<circle cx="291.4" cy="311.4" r="1.55" fill="#FF6D38"/>
<circle cx="304.6" cy="311.1" r="1.55" fill="#FF6D38"/>
<circle cx="306.4" cy="313.3" r="1.55" fill="#FF6D38"/>
<circle cx="314.4" cy="312.1" r="1.55" fill="#FF6D38"/>
<circle cx="318.9" cy="308.9" r="1.55" fill="#FF6D38"/>
<circle cx="257.9" cy="320.7" r="1.55" fill="#FF6D38"/>
<circle cx="253.9" cy="325.1" r="1.55" fill="#FF6D38"/>
<circle cx="258.4" cy="327.5" r="1.55" fill="#FF6D38"/>
<circle cx="252.3" cy="335.4" r="1.55" fill="#FF6D38"/>
<circle cx="251.5" cy="337.8" r="1.55" fill="#FF6D38"/>
<circle cx="253.1" cy="338.6" r="1.55" fill="#FF6D38"/>
<circle cx="251.9" cy="342.1" r="1.55" fill="#FF6D38"/>
<circle cx="253.5" cy="343.3" r="1.55" fill="#FF6D38"/>
<circle cx="255.9" cy="344.1" r="1.55" fill="#FF6D38"/>
<circle cx="253.1" cy="345.7" r="1.55" fill="#FF6D38"/>
<circle cx="250.2" cy="346.9" r="1.55" fill="#FF6D38"/>
<circle cx="250.3" cy="351.3" r="1.55" fill="#FF6D38"/>
<circle cx="253.9" cy="350.1" r="1.55" fill="#FF6D38"/>
<circle cx="260.8" cy="349.3" r="1.55" fill="#FF6D38"/>
<circle cx="253.5" cy="354.1" r="1.55" fill="#FF6D38"/>
<circle cx="259.8" cy="354.4" r="1.55" fill="#FF6D38"/>
<circle cx="260.2" cy="355.6" r="1.55" fill="#FF6D38"/>
<circle cx="251.9" cy="358.4" r="1.55" fill="#FF6D38"/>
<circle cx="249.5" cy="360.4" r="1.55" fill="#FF6D38"/>
<circle cx="255.9" cy="358.8" r="1.55" fill="#FF6D38"/>
<circle cx="257.1" cy="359.2" r="1.55" fill="#FF6D38"/>
<circle cx="265.8" cy="357.2" r="1.55" fill="#FF6D38"/>
<circle cx="269.0" cy="344.5" r="1.55" fill="#FF6D38"/>
<circle cx="273.3" cy="331.8" r="1.55" fill="#FF6D38"/>
<circle cx="278.9" cy="334.2" r="1.55" fill="#FF6D38"/>
<circle cx="279.7" cy="330.2" r="1.55" fill="#FF6D38"/>
<circle cx="278.9" cy="325.9" r="1.55" fill="#FF6D38"/>
<circle cx="281.7" cy="322.7" r="1.55" fill="#FF6D38"/>
<circle cx="284.8" cy="326.7" r="1.55" fill="#FF6D38"/>
<circle cx="286.8" cy="323.1" r="1.55" fill="#FF6D38"/>
<circle cx="288.0" cy="323.9" r="1.55" fill="#FF6D38"/>
<circle cx="291.2" cy="319.5" r="1.55" fill="#FF6D38"/>
<circle cx="275.7" cy="317.5" r="1.55" fill="#FF6D38"/>
<circle cx="278.9" cy="315.2" r="1.55" fill="#FF6D38"/>
<circle cx="280.1" cy="317.9" r="1.55" fill="#FF6D38"/>
<circle cx="281.7" cy="317.5" r="1.55" fill="#FF6D38"/>
<circle cx="283.5" cy="319.4" r="1.55" fill="#FF6D38"/>
<circle cx="284.8" cy="315.9" r="1.55" fill="#FF6D38"/>
<circle cx="286.8" cy="315.9" r="1.55" fill="#FF6D38"/>
<circle cx="284.8" cy="335.0" r="1.55" fill="#FF6D38"/>
<circle cx="345.4" cy="292.3" r="1.55" fill="#40E0D0"/>
<circle cx="345.4" cy="293.8" r="1.55" fill="#40E0D0"/>
<circle cx="331.9" cy="299.9" r="1.55" fill="#40E0D0"/>
<circle cx="325.5" cy="311.1" r="1.55" fill="#40E0D0"/>
<circle cx="291.2" cy="331.3" r="1.55" fill="#40E0D0"/>
<circle cx="287.6" cy="333.4" r="1.55" fill="#40E0D0"/>
<circle cx="291.6" cy="336.2" r="1.55" fill="#40E0D0"/>
<circle cx="284.8" cy="336.6" r="1.55" fill="#40E0D0"/>
<circle cx="279.3" cy="340.9" r="1.55" fill="#40E0D0"/>
<circle cx="281.3" cy="341.8" r="1.55" fill="#40E0D0"/>
<circle cx="283.2" cy="341.4" r="1.55" fill="#40E0D0"/>
<circle cx="285.2" cy="340.9" r="1.55" fill="#40E0D0"/>
<circle cx="286.4" cy="340.2" r="1.55" fill="#40E0D0"/>
<circle cx="287.2" cy="341.4" r="1.55" fill="#40E0D0"/>
<circle cx="284.4" cy="343.3" r="1.55" fill="#40E0D0"/>
<circle cx="279.7" cy="343.7" r="1.55" fill="#40E0D0"/>
<circle cx="278.9" cy="346.5" r="1.55" fill="#40E0D0"/>
<circle cx="276.5" cy="349.3" r="1.55" fill="#40E0D0"/>
<circle cx="273.3" cy="351.3" r="1.55" fill="#40E0D0"/>
<circle cx="272.4" cy="355.9" r="1.55" fill="#40E0D0"/>
<circle cx="268.6" cy="355.4" r="1.55" fill="#40E0D0"/>
<circle cx="263.8" cy="356.4" r="1.55" fill="#40E0D0"/>
<circle cx="286.4" cy="348.9" r="1.55" fill="#40E0D0"/>
<circle cx="275.7" cy="360.8" r="1.55" fill="#40E0D0"/>
<circle cx="269.4" cy="363.0" r="1.55" fill="#40E0D0"/>
<circle cx="265.8" cy="361.4" r="1.55" fill="#40E0D0"/>
<circle cx="262.2" cy="360.4" r="1.55" fill="#40E0D0"/>
<circle cx="260.2" cy="361.6" r="1.55" fill="#40E0D0"/>
<circle cx="259.1" cy="362.4" r="1.55" fill="#40E0D0"/>
<circle cx="259.4" cy="364.8" r="1.55" fill="#40E0D0"/>
<circle cx="257.1" cy="365.6" r="1.55" fill="#40E0D0"/>
<circle cx="258.2" cy="360.8" r="1.55" fill="#40E0D0"/>
<circle cx="251.9" cy="362.4" r="1.55" fill="#40E0D0"/>
<circle cx="253.9" cy="362.8" r="1.55" fill="#40E0D0"/>
<circle cx="250.3" cy="364.0" r="1.55" fill="#40E0D0"/>
<circle cx="249.5" cy="365.6" r="1.55" fill="#40E0D0"/>
<circle cx="248.7" cy="367.1" r="1.55" fill="#40E0D0"/>
<circle cx="251.1" cy="367.5" r="1.55" fill="#40E0D0"/>
<circle cx="253.1" cy="365.6" r="1.55" fill="#40E0D0"/>
<circle cx="255.1" cy="364.8" r="1.55" fill="#40E0D0"/>
<circle cx="256.7" cy="367.5" r="1.55" fill="#40E0D0"/>
<circle cx="254.3" cy="366.8" r="1.55" fill="#40E0D0"/>
<circle cx="314.6" cy="316.8" r="1.55" fill="#40E0D0"/>
<circle cx="316.2" cy="316.9" r="1.55" fill="#40E0D0"/>
<circle cx="318.6" cy="319.7" r="1.55" fill="#40E0D0"/>
<circle cx="318.4" cy="321.3" r="1.55" fill="#40E0D0"/>
<circle cx="304.7" cy="326.8" r="1.55" fill="#40E0D0"/>
<circle cx="306.3" cy="328.0" r="1.55" fill="#40E0D0"/>
<circle cx="306.7" cy="330.2" r="1.55" fill="#40E0D0"/>
<circle cx="304.3" cy="333.2" r="1.55" fill="#40E0D0"/>
<line x1="251.19" y1="346.73" x2="345.19" y2="268.59" stroke="#FF6D38" stroke-width="1"/>
<line x1="251.19" y1="367.84" x2="345.19" y2="296.11" stroke="#40E0D0" stroke-width="1"/>
<line x1="240.20" y1="374.70" x2="421.60" y2="374.70" stroke="#4d4d4d" stroke-width="1.1"/>
<line x1="248.45" y1="374.70" x2="248.45" y2="377.30" stroke="#4d4d4d" stroke-width="1.1"/>
<text transform="translate(248.45 385.80) scale(0.945 1)" text-anchor="middle" class="tk">0</text>
<line x1="303.42" y1="374.70" x2="303.42" y2="377.30" stroke="#4d4d4d" stroke-width="1.1"/>
<text transform="translate(303.42 385.80) scale(0.945 1)" text-anchor="middle" class="tk">100</text>
<line x1="358.38" y1="374.70" x2="358.38" y2="377.30" stroke="#4d4d4d" stroke-width="1.1"/>
<text transform="translate(358.38 385.80) scale(0.945 1)" text-anchor="middle" class="tk">200</text>
<line x1="413.35" y1="374.70" x2="413.35" y2="377.30" stroke="#4d4d4d" stroke-width="1.1"/>
<text transform="translate(413.35 385.80) scale(0.945 1)" text-anchor="middle" class="tk">300</text>
<text transform="translate(330.90 395.50) scale(1.0 1)" text-anchor="middle" class="tt">K Median Biomass Density (Mg/ha)</text>
<text transform="translate(265.0 233.9) scale(0.91 1)" class="eq" fill="#FF6D38"><tspan font-weight="bold">y</tspan> = 41.2 + 1 · <tspan font-weight="bold">x</tspan>,  <tspan font-weight="bold">r</tspan><tspan dy="-2.9" font-size="5.0">2</tspan><tspan dy="2.9"> = 0.72</tspan></text>
<text transform="translate(267.0 242.9) scale(0.91 1)" class="eq" fill="#40E0D0"><tspan font-weight="bold">y</tspan> = −4.58 + 0.918 · <tspan font-weight="bold">x</tspan>,  <tspan font-weight="bold">r</tspan><tspan dy="-2.9" font-size="5.0">2</tspan><tspan dy="2.9"> = 0.97</tspan></text>
<text x="240.9" y="218.5" class="lab">e</text>
<line x1="471.20" y1="374.70" x2="652.60" y2="223.90" stroke="#b5b5b5" stroke-width="0.75"/>
<circle cx="569.4" cy="246.4" r="1.55" fill="#FF6D38"/>
<circle cx="568.1" cy="259.8" r="1.55" fill="#FF6D38"/>
<circle cx="560.7" cy="266.5" r="1.55" fill="#FF6D38"/>
<circle cx="528.3" cy="285.5" r="1.55" fill="#FF6D38"/>
<circle cx="524.7" cy="290.0" r="1.55" fill="#FF6D38"/>
<circle cx="485.2" cy="296.5" r="1.55" fill="#FF6D38"/>
<circle cx="511.4" cy="295.5" r="1.55" fill="#FF6D38"/>
<circle cx="535.2" cy="301.2" r="1.55" fill="#FF6D38"/>
<circle cx="540.4" cy="297.6" r="1.55" fill="#FF6D38"/>
<circle cx="547.5" cy="297.4" r="1.55" fill="#FF6D38"/>
<circle cx="527.5" cy="304.4" r="1.55" fill="#FF6D38"/>
<circle cx="536.9" cy="308.9" r="1.55" fill="#FF6D38"/>
<circle cx="540.4" cy="312.1" r="1.55" fill="#FF6D38"/>
<circle cx="493.5" cy="306.6" r="1.55" fill="#FF6D38"/>
<circle cx="488.4" cy="311.2" r="1.55" fill="#FF6D38"/>
<circle cx="493.5" cy="310.1" r="1.55" fill="#FF6D38"/>
<circle cx="517.4" cy="311.2" r="1.55" fill="#FF6D38"/>
<circle cx="520.7" cy="310.9" r="1.55" fill="#FF6D38"/>
<circle cx="526.3" cy="313.3" r="1.55" fill="#FF6D38"/>
<circle cx="487.6" cy="317.6" r="1.55" fill="#FF6D38"/>
<circle cx="487.6" cy="320.9" r="1.55" fill="#FF6D38"/>
<circle cx="501.9" cy="316.2" r="1.55" fill="#FF6D38"/>
<circle cx="501.5" cy="318.1" r="1.55" fill="#FF6D38"/>
<circle cx="505.5" cy="315.4" r="1.55" fill="#FF6D38"/>
<circle cx="510.6" cy="318.1" r="1.55" fill="#FF6D38"/>
<circle cx="511.4" cy="319.1" r="1.55" fill="#FF6D38"/>
<circle cx="516.8" cy="315.8" r="1.55" fill="#FF6D38"/>
<circle cx="523.2" cy="319.5" r="1.55" fill="#FF6D38"/>
<circle cx="510.0" cy="322.6" r="1.55" fill="#FF6D38"/>
<circle cx="513.5" cy="323.1" r="1.55" fill="#FF6D38"/>
<circle cx="520.4" cy="323.7" r="1.55" fill="#FF6D38"/>
<circle cx="482.0" cy="325.1" r="1.55" fill="#FF6D38"/>
<circle cx="487.0" cy="327.4" r="1.55" fill="#FF6D38"/>
<circle cx="507.7" cy="325.3" r="1.55" fill="#FF6D38"/>
<circle cx="508.6" cy="326.6" r="1.55" fill="#FF6D38"/>
<circle cx="509.6" cy="330.3" r="1.55" fill="#FF6D38"/>
<circle cx="499.4" cy="331.7" r="1.55" fill="#FF6D38"/>
<circle cx="505.0" cy="334.2" r="1.55" fill="#FF6D38"/>
<circle cx="511.9" cy="335.3" r="1.55" fill="#FF6D38"/>
<circle cx="482.4" cy="334.9" r="1.55" fill="#FF6D38"/>
<circle cx="481.6" cy="336.5" r="1.55" fill="#FF6D38"/>
<circle cx="486.2" cy="336.9" r="1.55" fill="#FF6D38"/>
<circle cx="486.6" cy="338.2" r="1.55" fill="#FF6D38"/>
<circle cx="481.6" cy="338.6" r="1.55" fill="#FF6D38"/>
<circle cx="480.4" cy="342.3" r="1.55" fill="#FF6D38"/>
<circle cx="482.4" cy="342.8" r="1.55" fill="#FF6D38"/>
<circle cx="482.9" cy="343.6" r="1.55" fill="#FF6D38"/>
<circle cx="485.6" cy="345.8" r="1.55" fill="#FF6D38"/>
<circle cx="494.0" cy="344.4" r="1.55" fill="#FF6D38"/>
<circle cx="480.4" cy="346.9" r="1.55" fill="#FF6D38"/>
<circle cx="479.9" cy="351.3" r="1.55" fill="#FF6D38"/>
<circle cx="482.9" cy="350.2" r="1.55" fill="#FF6D38"/>
<circle cx="485.6" cy="349.1" r="1.55" fill="#FF6D38"/>
<circle cx="479.9" cy="353.8" r="1.55" fill="#FF6D38"/>
<circle cx="483.3" cy="355.2" r="1.55" fill="#FF6D38"/>
<circle cx="486.6" cy="354.4" r="1.55" fill="#FF6D38"/>
<circle cx="487.2" cy="356.8" r="1.55" fill="#FF6D38"/>
<circle cx="479.5" cy="358.1" r="1.55" fill="#FF6D38"/>
<circle cx="479.3" cy="360.2" r="1.55" fill="#FF6D38"/>
<circle cx="482.0" cy="359.1" r="1.55" fill="#FF6D38"/>
<circle cx="479.5" cy="366.5" r="1.55" fill="#FF6D38"/>
<line x1="479.45" y1="346.19" x2="570.15" y2="266.26" stroke="#FF6D38" stroke-width="1"/>
<line x1="471.20" y1="374.70" x2="652.60" y2="374.70" stroke="#4d4d4d" stroke-width="1.1"/>
<line x1="479.45" y1="374.70" x2="479.45" y2="377.30" stroke="#4d4d4d" stroke-width="1.1"/>
<text transform="translate(479.45 385.80) scale(0.945 1)" text-anchor="middle" class="tk">0</text>
<line x1="534.42" y1="374.70" x2="534.42" y2="377.30" stroke="#4d4d4d" stroke-width="1.1"/>
<text transform="translate(534.42 385.80) scale(0.945 1)" text-anchor="middle" class="tk">100</text>
<line x1="589.38" y1="374.70" x2="589.38" y2="377.30" stroke="#4d4d4d" stroke-width="1.1"/>
<text transform="translate(589.38 385.80) scale(0.945 1)" text-anchor="middle" class="tk">200</text>
<line x1="644.35" y1="374.70" x2="644.35" y2="377.30" stroke="#4d4d4d" stroke-width="1.1"/>
<text transform="translate(644.35 385.80) scale(0.945 1)" text-anchor="middle" class="tk">300</text>
<text transform="translate(561.90 395.50) scale(1.0 1)" text-anchor="middle" class="tt">W Median Biomass Density (Mg/ha)</text>
<text transform="translate(491.5 233.9) scale(0.91 1)" class="eq" fill="#FF6D38"><tspan font-weight="bold">y</tspan> = 47.4 + 1.06 · <tspan font-weight="bold">x</tspan>,  <tspan font-weight="bold">r</tspan><tspan dy="-2.9" font-size="5.0">2</tspan><tspan dy="2.9"> = 0.71</tspan></text>
<text x="477.2" y="218.5" class="lab">f</text>
<line x1="28.30" y1="586.40" x2="190.70" y2="434.00" stroke="#b5b5b5" stroke-width="0.75"/>
<circle cx="58.9" cy="559.5" r="1.55" fill="#006400"/>
<circle cx="63.2" cy="559.7" r="1.55" fill="#006400"/>
<circle cx="67.2" cy="562.7" r="1.55" fill="#006400"/>
<circle cx="70.3" cy="556.8" r="1.55" fill="#006400"/>
<circle cx="52.8" cy="568.3" r="1.55" fill="#006400"/>
<circle cx="47.2" cy="570.0" r="1.55" fill="#006400"/>
<circle cx="44.7" cy="573.4" r="1.55" fill="#006400"/>
<circle cx="54.5" cy="575.1" r="1.55" fill="#006400"/>
<circle cx="40.8" cy="576.8" r="1.55" fill="#006400"/>
<circle cx="39.1" cy="579.0" r="1.55" fill="#006400"/>
<circle cx="82.0" cy="563.2" r="1.55" fill="#006400"/>
<circle cx="81.7" cy="454.4" r="1.55" fill="#FF6D38"/>
<circle cx="66.9" cy="479.8" r="1.55" fill="#FF6D38"/>
<circle cx="57.8" cy="493.5" r="1.55" fill="#FF6D38"/>
<circle cx="66.9" cy="493.5" r="1.55" fill="#FF6D38"/>
<circle cx="51.6" cy="496.9" r="1.55" fill="#FF6D38"/>
<circle cx="63.4" cy="503.2" r="1.55" fill="#FF6D38"/>
<circle cx="70.0" cy="503.7" r="1.55" fill="#FF6D38"/>
<circle cx="43.1" cy="505.2" r="1.55" fill="#FF6D38"/>
<circle cx="45.1" cy="506.5" r="1.55" fill="#FF6D38"/>
<circle cx="52.9" cy="505.2" r="1.55" fill="#FF6D38"/>
<circle cx="51.6" cy="508.6" r="1.55" fill="#FF6D38"/>
<circle cx="58.8" cy="510.4" r="1.55" fill="#FF6D38"/>
<circle cx="71.0" cy="512.2" r="1.55" fill="#FF6D38"/>
<circle cx="47.0" cy="515.0" r="1.55" fill="#FF6D38"/>
<circle cx="42.5" cy="516.9" r="1.55" fill="#FF6D38"/>
<circle cx="50.3" cy="516.9" r="1.55" fill="#FF6D38"/>
<circle cx="44.8" cy="518.2" r="1.55" fill="#FF6D38"/>
<circle cx="44.8" cy="520.1" r="1.55" fill="#FF6D38"/>
<circle cx="49.0" cy="519.5" r="1.55" fill="#FF6D38"/>
<circle cx="62.7" cy="520.3" r="1.55" fill="#FF6D38"/>
<circle cx="52.4" cy="522.3" r="1.55" fill="#FF6D38"/>
<circle cx="47.0" cy="526.2" r="1.55" fill="#FF6D38"/>
<circle cx="48.7" cy="525.4" r="1.55" fill="#FF6D38"/>
<circle cx="54.2" cy="525.7" r="1.55" fill="#FF6D38"/>
<circle cx="52.8" cy="528.5" r="1.55" fill="#FF6D38"/>
<circle cx="52.1" cy="530.7" r="1.55" fill="#FF6D38"/>
<circle cx="50.4" cy="531.1" r="1.55" fill="#FF6D38"/>
<circle cx="50.0" cy="532.4" r="1.55" fill="#FF6D38"/>
<circle cx="43.2" cy="533.7" r="1.55" fill="#FF6D38"/>
<circle cx="48.9" cy="535.8" r="1.55" fill="#FF6D38"/>
<circle cx="50.4" cy="538.0" r="1.55" fill="#FF6D38"/>
<circle cx="49.8" cy="540.1" r="1.55" fill="#FF6D38"/>
<circle cx="40.4" cy="538.0" r="1.55" fill="#FF6D38"/>
<circle cx="40.0" cy="542.9" r="1.55" fill="#FF6D38"/>
<circle cx="46.1" cy="545.6" r="1.55" fill="#FF6D38"/>
<circle cx="47.2" cy="546.1" r="1.55" fill="#FF6D38"/>
<circle cx="50.4" cy="547.8" r="1.55" fill="#FF6D38"/>
<circle cx="39.1" cy="549.9" r="1.55" fill="#FF6D38"/>
<circle cx="38.3" cy="552.0" r="1.55" fill="#FF6D38"/>
<circle cx="37.8" cy="553.3" r="1.55" fill="#FF6D38"/>
<circle cx="39.1" cy="553.8" r="1.55" fill="#FF6D38"/>
<circle cx="43.4" cy="556.3" r="1.55" fill="#FF6D38"/>
<circle cx="44.7" cy="558.5" r="1.55" fill="#FF6D38"/>
<circle cx="43.0" cy="557.6" r="1.55" fill="#FF6D38"/>
<circle cx="38.3" cy="557.6" r="1.55" fill="#FF6D38"/>
<circle cx="39.1" cy="559.7" r="1.55" fill="#FF6D38"/>
<circle cx="41.7" cy="561.0" r="1.55" fill="#FF6D38"/>
<circle cx="40.8" cy="565.3" r="1.55" fill="#FF6D38"/>
<circle cx="38.3" cy="567.4" r="1.55" fill="#FF6D38"/>
<circle cx="40.4" cy="567.9" r="1.55" fill="#FF6D38"/>
<circle cx="37.8" cy="570.9" r="1.55" fill="#FF6D38"/>
<circle cx="40.0" cy="571.3" r="1.55" fill="#FF6D38"/>
<circle cx="39.1" cy="573.0" r="1.55" fill="#FF6D38"/>
<circle cx="42.1" cy="574.3" r="1.55" fill="#FF6D38"/>
<circle cx="62.6" cy="549.7" r="1.55" fill="#40E0D0"/>
<circle cx="66.9" cy="558.9" r="1.55" fill="#40E0D0"/>
<circle cx="69.9" cy="560.6" r="1.55" fill="#40E0D0"/>
<circle cx="57.9" cy="563.2" r="1.55" fill="#40E0D0"/>
<circle cx="58.6" cy="564.4" r="1.55" fill="#40E0D0"/>
<circle cx="66.9" cy="565.3" r="1.55" fill="#40E0D0"/>
<circle cx="63.0" cy="567.4" r="1.55" fill="#40E0D0"/>
<circle cx="52.4" cy="562.3" r="1.55" fill="#40E0D0"/>
<circle cx="52.8" cy="564.4" r="1.55" fill="#40E0D0"/>
<circle cx="51.9" cy="566.6" r="1.55" fill="#40E0D0"/>
<circle cx="51.1" cy="568.3" r="1.55" fill="#40E0D0"/>
<circle cx="50.2" cy="570.4" r="1.55" fill="#40E0D0"/>
<circle cx="48.9" cy="572.1" r="1.55" fill="#40E0D0"/>
<circle cx="47.7" cy="573.4" r="1.55" fill="#40E0D0"/>
<circle cx="46.0" cy="574.7" r="1.55" fill="#40E0D0"/>
<circle cx="44.2" cy="576.0" r="1.55" fill="#40E0D0"/>
<circle cx="42.5" cy="577.3" r="1.55" fill="#40E0D0"/>
<circle cx="40.8" cy="578.5" r="1.55" fill="#40E0D0"/>
<circle cx="39.1" cy="579.4" r="1.55" fill="#40E0D0"/>
<circle cx="37.8" cy="579.8" r="1.55" fill="#40E0D0"/>
<circle cx="43.4" cy="579.0" r="1.55" fill="#40E0D0"/>
<circle cx="46.8" cy="576.8" r="1.55" fill="#40E0D0"/>
<circle cx="50.2" cy="574.7" r="1.55" fill="#40E0D0"/>
<circle cx="52.8" cy="572.1" r="1.55" fill="#40E0D0"/>
<circle cx="53.6" cy="569.6" r="1.55" fill="#40E0D0"/>
<circle cx="54.5" cy="578.1" r="1.55" fill="#40E0D0"/>
<circle cx="48.5" cy="575.6" r="1.55" fill="#40E0D0"/>
<circle cx="82.0" cy="560.9" r="1.55" fill="#40E0D0"/>
<line x1="38.63" y1="558.48" x2="82.19" y2="456.31" stroke="#FF6D38" stroke-width="1"/>
<line x1="38.63" y1="579.03" x2="82.19" y2="552.30" stroke="#006400" stroke-width="1"/>
<line x1="38.63" y1="579.59" x2="82.19" y2="551.75" stroke="#40E0D0" stroke-width="1"/>
<line x1="28.30" y1="586.40" x2="190.70" y2="586.40" stroke="#4d4d4d" stroke-width="1.1"/>
<line x1="35.68" y1="586.40" x2="35.68" y2="589.00" stroke="#4d4d4d" stroke-width="1.1"/>
<text transform="translate(35.68 596.20) scale(0.945 1)" text-anchor="middle" class="tk" style="font-size:8.15px">0</text>
<line x1="72.59" y1="586.40" x2="72.59" y2="589.00" stroke="#4d4d4d" stroke-width="1.1"/>
<text transform="translate(72.59 596.20) scale(0.945 1)" text-anchor="middle" class="tk" style="font-size:8.15px">50</text>
<line x1="109.50" y1="586.40" x2="109.50" y2="589.00" stroke="#4d4d4d" stroke-width="1.1"/>
<text transform="translate(109.50 596.20) scale(0.945 1)" text-anchor="middle" class="tk" style="font-size:8.15px">100</text>
<line x1="146.41" y1="586.40" x2="146.41" y2="589.00" stroke="#4d4d4d" stroke-width="1.1"/>
<text transform="translate(146.41 596.20) scale(0.945 1)" text-anchor="middle" class="tk" style="font-size:8.15px">150</text>
<line x1="183.32" y1="586.40" x2="183.32" y2="589.00" stroke="#4d4d4d" stroke-width="1.1"/>
<text transform="translate(183.32 596.20) scale(0.945 1)" text-anchor="middle" class="tk" style="font-size:8.15px">200</text>
<text transform="translate(109.50 606.00) scale(1.0 1)" text-anchor="middle" class="tt" style="font-size:8.95px">S 10th Percentile Biomass Density (Mg/ha)</text>
<line x1="28.30" y1="586.40" x2="28.30" y2="434.00" stroke="#4d4d4d" stroke-width="1.1"/>
<line x1="25.70" y1="579.47" x2="28.30" y2="579.47" stroke="#4d4d4d" stroke-width="1.1"/>
<text transform="translate(23.30 582.52) scale(0.945 1)" text-anchor="end" class="tk" style="font-size:8.15px">0</text>
<line x1="25.70" y1="544.84" x2="28.30" y2="544.84" stroke="#4d4d4d" stroke-width="1.1"/>
<text transform="translate(23.30 547.89) scale(0.945 1)" text-anchor="end" class="tk" style="font-size:8.15px">50</text>
<line x1="25.70" y1="510.20" x2="28.30" y2="510.20" stroke="#4d4d4d" stroke-width="1.1"/>
<text transform="translate(23.30 513.25) scale(0.945 1)" text-anchor="end" class="tk" style="font-size:8.15px">100</text>
<line x1="25.70" y1="475.56" x2="28.30" y2="475.56" stroke="#4d4d4d" stroke-width="1.1"/>
<text transform="translate(23.30 478.61) scale(0.945 1)" text-anchor="end" class="tk" style="font-size:8.15px">150</text>
<line x1="25.70" y1="440.93" x2="28.30" y2="440.93" stroke="#4d4d4d" stroke-width="1.1"/>
<text transform="translate(23.30 443.98) scale(0.945 1)" text-anchor="end" class="tk" style="font-size:8.15px">200</text>
<text transform="translate(8.2 510.20) rotate(-90) scale(1.0 1)" text-anchor="middle" class="tt" style="font-size:8.95px">10th Percentile Biomass Density (Mg/ha)</text>
<text transform="translate(90.0 551.9) scale(0.91 1)" class="eq" fill="#006400"><tspan font-weight="bold">y</tspan> = −1.97 + 0.654 · <tspan font-weight="bold">x</tspan>,  <tspan font-weight="bold">r</tspan><tspan dy="-2.9" font-size="5.0">2</tspan><tspan dy="2.9"> = 0.8</tspan></text>
<text transform="translate(94.0 561.9) scale(0.91 1)" class="eq" fill="#FF6D38"><tspan font-weight="bold">y</tspan> = 20.3 + 2.5 · <tspan font-weight="bold">x</tspan>,  <tspan font-weight="bold">r</tspan><tspan dy="-2.9" font-size="5.0">2</tspan><tspan dy="2.9"> = 0.67</tspan></text>
<text transform="translate(88.5 571.9) scale(0.91 1)" class="eq" fill="#40E0D0"><tspan font-weight="bold">y</tspan> = −2.89 + 0.681 · <tspan font-weight="bold">x</tspan>,  <tspan font-weight="bold">r</tspan><tspan dy="-2.9" font-size="5.0">2</tspan><tspan dy="2.9"> = 0.78</tspan></text>
<text x="4.4" y="419.0" class="lab">g</text>
<line x1="240.20" y1="584.90" x2="421.60" y2="433.50" stroke="#b5b5b5" stroke-width="0.75"/>
<circle cx="267.2" cy="454.4" r="1.55" fill="#FF6D38"/>
<circle cx="265.9" cy="479.5" r="1.55" fill="#FF6D38"/>
<circle cx="267.2" cy="492.7" r="1.55" fill="#FF6D38"/>
<circle cx="268.0" cy="492.9" r="1.55" fill="#FF6D38"/>
<circle cx="254.4" cy="496.3" r="1.55" fill="#FF6D38"/>
<circle cx="250.9" cy="504.5" r="1.55" fill="#FF6D38"/>
<circle cx="250.7" cy="505.7" r="1.55" fill="#FF6D38"/>
<circle cx="257.3" cy="504.4" r="1.55" fill="#FF6D38"/>
<circle cx="261.8" cy="507.9" r="1.55" fill="#FF6D38"/>
<circle cx="271.4" cy="502.8" r="1.55" fill="#FF6D38"/>
<circle cx="275.2" cy="503.4" r="1.55" fill="#FF6D38"/>
<circle cx="271.4" cy="509.4" r="1.55" fill="#FF6D38"/>
<circle cx="272.3" cy="511.5" r="1.55" fill="#FF6D38"/>
<circle cx="259.5" cy="514.5" r="1.55" fill="#FF6D38"/>
<circle cx="252.0" cy="516.0" r="1.55" fill="#FF6D38"/>
<circle cx="255.8" cy="516.2" r="1.55" fill="#FF6D38"/>
<circle cx="282.6" cy="519.6" r="1.55" fill="#FF6D38"/>
<circle cx="251.4" cy="519.2" r="1.55" fill="#FF6D38"/>
<circle cx="253.3" cy="518.7" r="1.55" fill="#FF6D38"/>
<circle cx="261.1" cy="521.5" r="1.55" fill="#FF6D38"/>
<circle cx="259.7" cy="521.9" r="1.55" fill="#FF6D38"/>
<circle cx="253.7" cy="524.6" r="1.55" fill="#FF6D38"/>
<circle cx="252.4" cy="525.6" r="1.55" fill="#FF6D38"/>
<circle cx="264.7" cy="527.4" r="1.55" fill="#FF6D38"/>
<circle cx="254.7" cy="530.6" r="1.55" fill="#FF6D38"/>
<circle cx="261.5" cy="530.0" r="1.55" fill="#FF6D38"/>
<circle cx="250.5" cy="532.7" r="1.55" fill="#FF6D38"/>
<circle cx="260.3" cy="534.5" r="1.55" fill="#FF6D38"/>
<circle cx="258.3" cy="536.7" r="1.55" fill="#FF6D38"/>
<circle cx="256.0" cy="538.9" r="1.55" fill="#FF6D38"/>
<circle cx="249.6" cy="537.0" r="1.55" fill="#FF6D38"/>
<circle cx="249.2" cy="542.0" r="1.55" fill="#FF6D38"/>
<circle cx="252.8" cy="544.8" r="1.55" fill="#FF6D38"/>
<circle cx="256.3" cy="547.1" r="1.55" fill="#FF6D38"/>
<circle cx="249.2" cy="548.9" r="1.55" fill="#FF6D38"/>
<circle cx="248.7" cy="551.7" r="1.55" fill="#FF6D38"/>
<circle cx="249.2" cy="552.9" r="1.55" fill="#FF6D38"/>
<circle cx="252.4" cy="555.0" r="1.55" fill="#FF6D38"/>
<circle cx="250.5" cy="556.2" r="1.55" fill="#FF6D38"/>
<circle cx="254.7" cy="557.2" r="1.55" fill="#FF6D38"/>
<circle cx="249.2" cy="557.6" r="1.55" fill="#FF6D38"/>
<circle cx="248.7" cy="559.5" r="1.55" fill="#FF6D38"/>
<circle cx="251.0" cy="559.5" r="1.55" fill="#FF6D38"/>
<circle cx="249.2" cy="564.0" r="1.55" fill="#FF6D38"/>
<circle cx="249.6" cy="565.4" r="1.55" fill="#FF6D38"/>
<circle cx="249.2" cy="567.2" r="1.55" fill="#FF6D38"/>
<circle cx="248.7" cy="569.5" r="1.55" fill="#FF6D38"/>
<circle cx="249.2" cy="570.9" r="1.55" fill="#FF6D38"/>
<circle cx="250.1" cy="572.7" r="1.55" fill="#FF6D38"/>
<circle cx="251.4" cy="573.2" r="1.55" fill="#FF6D38"/>
<circle cx="282.6" cy="548.5" r="1.55" fill="#40E0D0"/>
<circle cx="272.1" cy="555.3" r="1.55" fill="#40E0D0"/>
<circle cx="267.9" cy="557.6" r="1.55" fill="#40E0D0"/>
<circle cx="275.3" cy="560.2" r="1.55" fill="#40E0D0"/>
<circle cx="271.6" cy="562.4" r="1.55" fill="#40E0D0"/>
<circle cx="267.0" cy="559.9" r="1.55" fill="#40E0D0"/>
<circle cx="265.2" cy="562.7" r="1.55" fill="#40E0D0"/>
<circle cx="266.6" cy="564.0" r="1.55" fill="#40E0D0"/>
<circle cx="261.5" cy="561.1" r="1.55" fill="#40E0D0"/>
<circle cx="260.6" cy="563.1" r="1.55" fill="#40E0D0"/>
<circle cx="259.2" cy="565.0" r="1.55" fill="#40E0D0"/>
<circle cx="257.9" cy="565.9" r="1.55" fill="#40E0D0"/>
<circle cx="256.0" cy="567.2" r="1.55" fill="#40E0D0"/>
<circle cx="254.7" cy="568.6" r="1.55" fill="#40E0D0"/>
<circle cx="271.6" cy="566.0" r="1.55" fill="#40E0D0"/>
<circle cx="262.0" cy="569.5" r="1.55" fill="#40E0D0"/>
<circle cx="260.1" cy="573.2" r="1.55" fill="#40E0D0"/>
<circle cx="259.2" cy="574.6" r="1.55" fill="#40E0D0"/>
<circle cx="254.7" cy="573.2" r="1.55" fill="#40E0D0"/>
<circle cx="252.8" cy="574.6" r="1.55" fill="#40E0D0"/>
<circle cx="251.4" cy="575.5" r="1.55" fill="#40E0D0"/>
<circle cx="250.1" cy="576.4" r="1.55" fill="#40E0D0"/>
<circle cx="248.7" cy="577.8" r="1.55" fill="#40E0D0"/>
<circle cx="251.0" cy="577.8" r="1.55" fill="#40E0D0"/>
<circle cx="252.8" cy="577.3" r="1.55" fill="#40E0D0"/>
<circle cx="249.2" cy="578.7" r="1.55" fill="#40E0D0"/>
<circle cx="251.9" cy="578.7" r="1.55" fill="#40E0D0"/>
<circle cx="253.7" cy="575.9" r="1.55" fill="#40E0D0"/>
<circle cx="256.9" cy="570.9" r="1.55" fill="#40E0D0"/>
<circle cx="255.6" cy="570.4" r="1.55" fill="#40E0D0"/>
<line x1="248.45" y1="553.24" x2="283.08" y2="471.16" stroke="#FF6D38" stroke-width="1"/>
<line x1="248.45" y1="578.33" x2="283.08" y2="549.57" stroke="#40E0D0" stroke-width="1"/>
<line x1="240.20" y1="584.90" x2="421.60" y2="584.90" stroke="#4d4d4d" stroke-width="1.1"/>
<line x1="248.45" y1="584.90" x2="248.45" y2="587.50" stroke="#4d4d4d" stroke-width="1.1"/>
<text transform="translate(248.45 596.00) scale(0.945 1)" text-anchor="middle" class="tk">0</text>
<line x1="289.67" y1="584.90" x2="289.67" y2="587.50" stroke="#4d4d4d" stroke-width="1.1"/>
<text transform="translate(289.67 596.00) scale(0.945 1)" text-anchor="middle" class="tk">50</text>
<line x1="330.90" y1="584.90" x2="330.90" y2="587.50" stroke="#4d4d4d" stroke-width="1.1"/>
<text transform="translate(330.90 596.00) scale(0.945 1)" text-anchor="middle" class="tk">100</text>
<line x1="372.13" y1="584.90" x2="372.13" y2="587.50" stroke="#4d4d4d" stroke-width="1.1"/>
<text transform="translate(372.13 596.00) scale(0.945 1)" text-anchor="middle" class="tk">150</text>
<line x1="413.35" y1="584.90" x2="413.35" y2="587.50" stroke="#4d4d4d" stroke-width="1.1"/>
<text transform="translate(413.35 596.00) scale(0.945 1)" text-anchor="middle" class="tk">200</text>
<text transform="translate(330.90 605.70) scale(1.0 1)" text-anchor="middle" class="tt">K 10th Percentile Biomass Density (Mg/ha)</text>
<text transform="translate(324.0 540.4) scale(0.91 1)" class="eq" fill="#FF6D38"><tspan font-weight="bold">y</tspan> = 36 + 2.84 · <tspan font-weight="bold">x</tspan>,  <tspan font-weight="bold">r</tspan><tspan dy="-2.9" font-size="5.0">2</tspan><tspan dy="2.9"> = 0.46</tspan></text>
<text transform="translate(320.9 553.9) scale(0.91 1)" class="eq" fill="#40E0D0"><tspan font-weight="bold">y</tspan> = −0.45 + 0.995 · <tspan font-weight="bold">x</tspan>,  <tspan font-weight="bold">r</tspan><tspan dy="-2.9" font-size="5.0">2</tspan><tspan dy="2.9"> = 0.89</tspan></text>
<text x="244.0" y="423.1" class="lab">h</text>
<line x1="471.20" y1="584.90" x2="652.60" y2="433.50" stroke="#b5b5b5" stroke-width="0.75"/>
<circle cx="501.2" cy="454.4" r="1.55" fill="#FF6D38"/>
<circle cx="495.9" cy="479.5" r="1.55" fill="#FF6D38"/>
<circle cx="496.6" cy="492.7" r="1.55" fill="#FF6D38"/>
<circle cx="503.8" cy="492.7" r="1.55" fill="#FF6D38"/>
<circle cx="486.1" cy="496.3" r="1.55" fill="#FF6D38"/>
<circle cx="480.4" cy="504.3" r="1.55" fill="#FF6D38"/>
<circle cx="482.1" cy="505.7" r="1.55" fill="#FF6D38"/>
<circle cx="488.9" cy="504.3" r="1.55" fill="#FF6D38"/>
<circle cx="493.4" cy="502.8" r="1.55" fill="#FF6D38"/>
<circle cx="500.6" cy="503.2" r="1.55" fill="#FF6D38"/>
<circle cx="489.5" cy="507.9" r="1.55" fill="#FF6D38"/>
<circle cx="498.1" cy="509.4" r="1.55" fill="#FF6D38"/>
<circle cx="506.2" cy="511.5" r="1.55" fill="#FF6D38"/>
<circle cx="483.3" cy="514.5" r="1.55" fill="#FF6D38"/>
<circle cx="479.5" cy="516.2" r="1.55" fill="#FF6D38"/>
<circle cx="488.1" cy="516.2" r="1.55" fill="#FF6D38"/>
<circle cx="514.3" cy="519.6" r="1.55" fill="#FF6D38"/>
<circle cx="481.2" cy="519.2" r="1.55" fill="#FF6D38"/>
<circle cx="483.9" cy="519.0" r="1.55" fill="#FF6D38"/>
<circle cx="495.6" cy="521.5" r="1.55" fill="#FF6D38"/>
<circle cx="480.7" cy="524.6" r="1.55" fill="#FF6D38"/>
<circle cx="483.0" cy="525.8" r="1.55" fill="#FF6D38"/>
<circle cx="486.5" cy="524.8" r="1.55" fill="#FF6D38"/>
<circle cx="497.6" cy="527.2" r="1.55" fill="#FF6D38"/>
<circle cx="499.0" cy="530.1" r="1.55" fill="#FF6D38"/>
<circle cx="487.1" cy="530.6" r="1.55" fill="#FF6D38"/>
<circle cx="490.8" cy="531.5" r="1.55" fill="#FF6D38"/>
<circle cx="481.0" cy="532.7" r="1.55" fill="#FF6D38"/>
<circle cx="485.3" cy="534.5" r="1.55" fill="#FF6D38"/>
<circle cx="493.2" cy="536.7" r="1.55" fill="#FF6D38"/>
<circle cx="492.0" cy="538.9" r="1.55" fill="#FF6D38"/>
<circle cx="479.8" cy="537.0" r="1.55" fill="#FF6D38"/>
<circle cx="479.8" cy="541.9" r="1.55" fill="#FF6D38"/>
<circle cx="480.7" cy="544.3" r="1.55" fill="#FF6D38"/>
<circle cx="483.9" cy="544.8" r="1.55" fill="#FF6D38"/>
<circle cx="489.4" cy="547.1" r="1.55" fill="#FF6D38"/>
<circle cx="480.7" cy="548.9" r="1.55" fill="#FF6D38"/>
<circle cx="479.8" cy="550.8" r="1.55" fill="#FF6D38"/>
<circle cx="479.3" cy="552.1" r="1.55" fill="#FF6D38"/>
<circle cx="482.1" cy="554.9" r="1.55" fill="#FF6D38"/>
<circle cx="480.1" cy="556.7" r="1.55" fill="#FF6D38"/>
<circle cx="481.6" cy="556.7" r="1.55" fill="#FF6D38"/>
<circle cx="484.4" cy="557.2" r="1.55" fill="#FF6D38"/>
<circle cx="479.8" cy="559.5" r="1.55" fill="#FF6D38"/>
<circle cx="480.1" cy="564.0" r="1.55" fill="#FF6D38"/>
<circle cx="479.8" cy="565.9" r="1.55" fill="#FF6D38"/>
<circle cx="479.5" cy="567.7" r="1.55" fill="#FF6D38"/>
<circle cx="479.8" cy="569.5" r="1.55" fill="#FF6D38"/>
<circle cx="479.5" cy="571.4" r="1.55" fill="#FF6D38"/>
<circle cx="480.1" cy="573.2" r="1.55" fill="#FF6D38"/>
<circle cx="480.1" cy="577.8" r="1.55" fill="#FF6D38"/>
<line x1="479.45" y1="551.11" x2="514.90" y2="473.58" stroke="#FF6D38" stroke-width="1"/>
<line x1="471.20" y1="584.90" x2="652.60" y2="584.90" stroke="#4d4d4d" stroke-width="1.1"/>
<line x1="479.45" y1="584.90" x2="479.45" y2="587.50" stroke="#4d4d4d" stroke-width="1.1"/>
<text transform="translate(479.45 596.00) scale(0.945 1)" text-anchor="middle" class="tk">0</text>
<line x1="520.67" y1="584.90" x2="520.67" y2="587.50" stroke="#4d4d4d" stroke-width="1.1"/>
<text transform="translate(520.67 596.00) scale(0.945 1)" text-anchor="middle" class="tk">50</text>
<line x1="561.90" y1="584.90" x2="561.90" y2="587.50" stroke="#4d4d4d" stroke-width="1.1"/>
<text transform="translate(561.90 596.00) scale(0.945 1)" text-anchor="middle" class="tk">100</text>
<line x1="603.13" y1="584.90" x2="603.13" y2="587.50" stroke="#4d4d4d" stroke-width="1.1"/>
<text transform="translate(603.13 596.00) scale(0.945 1)" text-anchor="middle" class="tk">150</text>
<line x1="644.35" y1="584.90" x2="644.35" y2="587.50" stroke="#4d4d4d" stroke-width="1.1"/>
<text transform="translate(644.35 596.00) scale(0.945 1)" text-anchor="middle" class="tk">200</text>
<text transform="translate(561.90 605.70) scale(1.0 1)" text-anchor="middle" class="tt">W 10th Percentile Biomass Density (Mg/ha)</text>
<text transform="translate(551.5 540.4) scale(0.91 1)" class="eq" fill="#FF6D38"><tspan font-weight="bold">y</tspan> = 39.1 + 2.62 · <tspan font-weight="bold">x</tspan>,  <tspan font-weight="bold">r</tspan><tspan dy="-2.9" font-size="5.0">2</tspan><tspan dy="2.9"> = 0.44</tspan></text>
<text x="479.5" y="423.1" class="lab">i</text>
<line x1="30.80" y1="794.90" x2="191.30" y2="644.00" stroke="#b5b5b5" stroke-width="0.75"/>
<circle cx="153.3" cy="696.5" r="1.55" fill="#006400"/>
<circle cx="157.4" cy="703.2" r="1.55" fill="#006400"/>
<circle cx="167.4" cy="695.9" r="1.55" fill="#006400"/>
<circle cx="169.9" cy="694.2" r="1.55" fill="#006400"/>
<circle cx="108.3" cy="715.7" r="1.55" fill="#006400"/>
<circle cx="110.9" cy="737.9" r="1.55" fill="#006400"/>
<circle cx="99.1" cy="739.5" r="1.55" fill="#006400"/>
<circle cx="73.0" cy="752.6" r="1.55" fill="#006400"/>
<circle cx="76.9" cy="752.1" r="1.55" fill="#006400"/>
<circle cx="83.2" cy="751.1" r="1.55" fill="#006400"/>
<circle cx="87.6" cy="748.2" r="1.55" fill="#006400"/>
<circle cx="89.6" cy="745.3" r="1.55" fill="#006400"/>
<circle cx="59.3" cy="763.4" r="1.55" fill="#006400"/>
<circle cx="65.2" cy="759.7" r="1.55" fill="#006400"/>
<circle cx="68.1" cy="759.9" r="1.55" fill="#006400"/>
<circle cx="72.5" cy="765.3" r="1.55" fill="#006400"/>
<circle cx="76.4" cy="759.4" r="1.55" fill="#006400"/>
<circle cx="53.2" cy="770.2" r="1.55" fill="#006400"/>
<circle cx="49.0" cy="776.5" r="1.55" fill="#006400"/>
<circle cx="44.6" cy="781.4" r="1.55" fill="#006400"/>
<circle cx="42.7" cy="781.9" r="1.55" fill="#006400"/>
<circle cx="61.3" cy="768.2" r="1.55" fill="#006400"/>
<circle cx="125.0" cy="749.5" r="1.55" fill="#006400"/>
<circle cx="167.4" cy="676.4" r="1.55" fill="#FF6D38"/>
<circle cx="157.4" cy="678.7" r="1.55" fill="#FF6D38"/>
<circle cx="169.9" cy="682.5" r="1.55" fill="#FF6D38"/>
<circle cx="153.3" cy="692.7" r="1.55" fill="#FF6D38"/>
<circle cx="108.3" cy="707.9" r="1.55" fill="#FF6D38"/>
<circle cx="83.2" cy="714.0" r="1.55" fill="#FF6D38"/>
<circle cx="110.9" cy="722.9" r="1.55" fill="#FF6D38"/>
<circle cx="87.4" cy="731.5" r="1.55" fill="#FF6D38"/>
<circle cx="124.9" cy="739.5" r="1.55" fill="#FF6D38"/>
<circle cx="104.9" cy="744.0" r="1.55" fill="#FF6D38"/>
<circle cx="93.8" cy="737.0" r="1.55" fill="#FF6D38"/>
<circle cx="90.2" cy="739.9" r="1.55" fill="#FF6D38"/>
<circle cx="99.1" cy="738.6" r="1.55" fill="#FF6D38"/>
<circle cx="72.2" cy="725.7" r="1.55" fill="#FF6D38"/>
<circle cx="75.4" cy="727.5" r="1.55" fill="#FF6D38"/>
<circle cx="75.9" cy="731.6" r="1.55" fill="#FF6D38"/>
<circle cx="75.9" cy="736.0" r="1.55" fill="#FF6D38"/>
<circle cx="64.2" cy="746.1" r="1.55" fill="#FF6D38"/>
<circle cx="67.6" cy="747.0" r="1.55" fill="#FF6D38"/>
<circle cx="70.5" cy="748.0" r="1.55" fill="#FF6D38"/>
<circle cx="76.9" cy="746.3" r="1.55" fill="#FF6D38"/>
<circle cx="72.0" cy="750.6" r="1.55" fill="#FF6D38"/>
<circle cx="74.4" cy="751.1" r="1.55" fill="#FF6D38"/>
<circle cx="84.2" cy="746.3" r="1.55" fill="#FF6D38"/>
<circle cx="53.2" cy="755.0" r="1.55" fill="#FF6D38"/>
<circle cx="51.0" cy="757.5" r="1.55" fill="#FF6D38"/>
<circle cx="53.4" cy="758.5" r="1.55" fill="#FF6D38"/>
<circle cx="58.3" cy="755.2" r="1.55" fill="#FF6D38"/>
<circle cx="61.8" cy="754.6" r="1.55" fill="#FF6D38"/>
<circle cx="67.6" cy="754.6" r="1.55" fill="#FF6D38"/>
<circle cx="46.8" cy="759.1" r="1.55" fill="#FF6D38"/>
<circle cx="50.0" cy="761.4" r="1.55" fill="#FF6D38"/>
<circle cx="53.0" cy="762.7" r="1.55" fill="#FF6D38"/>
<circle cx="43.7" cy="764.3" r="1.55" fill="#FF6D38"/>
<circle cx="59.3" cy="762.9" r="1.55" fill="#FF6D38"/>
<circle cx="63.2" cy="763.4" r="1.55" fill="#FF6D38"/>
<circle cx="62.2" cy="758.0" r="1.55" fill="#FF6D38"/>
<circle cx="48.6" cy="768.7" r="1.55" fill="#FF6D38"/>
<circle cx="44.2" cy="773.4" r="1.55" fill="#FF6D38"/>
<circle cx="49.0" cy="772.6" r="1.55" fill="#FF6D38"/>
<circle cx="51.0" cy="774.1" r="1.55" fill="#FF6D38"/>
<circle cx="48.1" cy="784.8" r="1.55" fill="#FF6D38"/>
<circle cx="79.8" cy="758.0" r="1.55" fill="#FF6D38"/>
<circle cx="57.4" cy="768.7" r="1.55" fill="#FF6D38"/>
<circle cx="98.3" cy="745.2" r="1.55" fill="#FF6D38"/>
<circle cx="167.4" cy="690.1" r="1.55" fill="#40E0D0"/>
<circle cx="169.9" cy="696.8" r="1.55" fill="#40E0D0"/>
<circle cx="153.3" cy="700.9" r="1.55" fill="#40E0D0"/>
<circle cx="108.3" cy="723.3" r="1.55" fill="#40E0D0"/>
<circle cx="110.9" cy="735.7" r="1.55" fill="#40E0D0"/>
<circle cx="93.8" cy="739.5" r="1.55" fill="#40E0D0"/>
<circle cx="94.7" cy="740.8" r="1.55" fill="#40E0D0"/>
<circle cx="76.9" cy="749.7" r="1.55" fill="#40E0D0"/>
<circle cx="80.3" cy="751.6" r="1.55" fill="#40E0D0"/>
<circle cx="84.2" cy="747.2" r="1.55" fill="#40E0D0"/>
<circle cx="88.1" cy="752.1" r="1.55" fill="#40E0D0"/>
<circle cx="70.0" cy="755.5" r="1.55" fill="#40E0D0"/>
<circle cx="73.0" cy="758.0" r="1.55" fill="#40E0D0"/>
<circle cx="76.4" cy="755.0" r="1.55" fill="#40E0D0"/>
<circle cx="79.3" cy="756.5" r="1.55" fill="#40E0D0"/>
<circle cx="82.3" cy="756.5" r="1.55" fill="#40E0D0"/>
<circle cx="83.2" cy="763.4" r="1.55" fill="#40E0D0"/>
<circle cx="75.9" cy="762.4" r="1.55" fill="#40E0D0"/>
<circle cx="72.0" cy="772.4" r="1.55" fill="#40E0D0"/>
<circle cx="67.6" cy="768.2" r="1.55" fill="#40E0D0"/>
<circle cx="62.2" cy="771.6" r="1.55" fill="#40E0D0"/>
<circle cx="59.3" cy="766.8" r="1.55" fill="#40E0D0"/>
<circle cx="64.2" cy="765.8" r="1.55" fill="#40E0D0"/>
<circle cx="59.3" cy="774.6" r="1.55" fill="#40E0D0"/>
<circle cx="57.8" cy="777.5" r="1.55" fill="#40E0D0"/>
<circle cx="58.8" cy="780.0" r="1.55" fill="#40E0D0"/>
<circle cx="53.4" cy="775.6" r="1.55" fill="#40E0D0"/>
<circle cx="52.0" cy="778.5" r="1.55" fill="#40E0D0"/>
<circle cx="50.5" cy="781.4" r="1.55" fill="#40E0D0"/>
<circle cx="49.0" cy="779.5" r="1.55" fill="#40E0D0"/>
<circle cx="46.6" cy="782.4" r="1.55" fill="#40E0D0"/>
<circle cx="44.2" cy="785.3" r="1.55" fill="#40E0D0"/>
<circle cx="48.6" cy="786.8" r="1.55" fill="#40E0D0"/>
<circle cx="51.0" cy="783.4" r="1.55" fill="#40E0D0"/>
<circle cx="53.4" cy="782.4" r="1.55" fill="#40E0D0"/>
<circle cx="63.2" cy="781.4" r="1.55" fill="#40E0D0"/>
<circle cx="57.4" cy="773.1" r="1.55" fill="#40E0D0"/>
<circle cx="55.4" cy="776.0" r="1.55" fill="#40E0D0"/>
<circle cx="125.0" cy="747.5" r="1.55" fill="#40E0D0"/>
<circle cx="104.9" cy="745.7" r="1.55" fill="#40E0D0"/>
<line x1="43.35" y1="772.67" x2="170.87" y2="679.87" stroke="#FF6D38" stroke-width="1"/>
<line x1="43.35" y1="780.89" x2="170.87" y2="690.61" stroke="#006400" stroke-width="1"/>
<line x1="43.35" y1="784.29" x2="170.87" y2="689.69" stroke="#40E0D0" stroke-width="1"/>
<line x1="30.80" y1="794.90" x2="191.30" y2="794.90" stroke="#4d4d4d" stroke-width="1.1"/>
<line x1="38.10" y1="794.90" x2="38.10" y2="797.50" stroke="#4d4d4d" stroke-width="1.1"/>
<text transform="translate(38.10 806.00) scale(0.945 1)" text-anchor="middle" class="tk">0</text>
<line x1="67.28" y1="794.90" x2="67.28" y2="797.50" stroke="#4d4d4d" stroke-width="1.1"/>
<text transform="translate(67.28 806.00) scale(0.945 1)" text-anchor="middle" class="tk">100</text>
<line x1="96.46" y1="794.90" x2="96.46" y2="797.50" stroke="#4d4d4d" stroke-width="1.1"/>
<text transform="translate(96.46 806.00) scale(0.945 1)" text-anchor="middle" class="tk">200</text>
<line x1="125.64" y1="794.90" x2="125.64" y2="797.50" stroke="#4d4d4d" stroke-width="1.1"/>
<text transform="translate(125.64 806.00) scale(0.945 1)" text-anchor="middle" class="tk">300</text>
<line x1="154.82" y1="794.90" x2="154.82" y2="797.50" stroke="#4d4d4d" stroke-width="1.1"/>
<text transform="translate(154.82 806.00) scale(0.945 1)" text-anchor="middle" class="tk">400</text>
<line x1="184.00" y1="794.90" x2="184.00" y2="797.50" stroke="#4d4d4d" stroke-width="1.1"/>
<text transform="translate(184.00 806.00) scale(0.945 1)" text-anchor="middle" class="tk">500</text>
<text transform="translate(111.05 815.70) scale(1.0 1)" text-anchor="middle" class="tt">S 90th Percentile Biomass Density (Mg/ha)</text>
<line x1="30.80" y1="794.90" x2="30.80" y2="644.00" stroke="#4d4d4d" stroke-width="1.1"/>
<line x1="28.20" y1="788.04" x2="30.80" y2="788.04" stroke="#4d4d4d" stroke-width="1.1"/>
<text transform="translate(26.30 791.54) scale(0.945 1)" text-anchor="end" class="tk">0</text>
<line x1="28.20" y1="760.60" x2="30.80" y2="760.60" stroke="#4d4d4d" stroke-width="1.1"/>
<text transform="translate(26.30 764.10) scale(0.945 1)" text-anchor="end" class="tk">100</text>
<line x1="28.20" y1="733.17" x2="30.80" y2="733.17" stroke="#4d4d4d" stroke-width="1.1"/>
<text transform="translate(26.30 736.67) scale(0.945 1)" text-anchor="end" class="tk">200</text>
<line x1="28.20" y1="705.73" x2="30.80" y2="705.73" stroke="#4d4d4d" stroke-width="1.1"/>
<text transform="translate(26.30 709.23) scale(0.945 1)" text-anchor="end" class="tk">300</text>
<line x1="28.20" y1="678.30" x2="30.80" y2="678.30" stroke="#4d4d4d" stroke-width="1.1"/>
<text transform="translate(26.30 681.80) scale(0.945 1)" text-anchor="end" class="tk">400</text>
<line x1="28.20" y1="650.86" x2="30.80" y2="650.86" stroke="#4d4d4d" stroke-width="1.1"/>
<text transform="translate(26.30 654.36) scale(0.945 1)" text-anchor="end" class="tk">500</text>
<text transform="translate(8.6 719.45) rotate(-90) scale(1.0 1)" text-anchor="middle" class="tt">90th Percentile Biomass Density (Mg/ha)</text>
<text transform="translate(43.0 653.4) scale(0.91 1)" class="eq" fill="#006400"><tspan font-weight="bold">y</tspan> = 12.5 + 0.753 · <tspan font-weight="bold">x</tspan>,  <tspan font-weight="bold">r</tspan><tspan dy="-2.9" font-size="5.0">2</tspan><tspan dy="2.9"> = 0.93</tspan></text>
<text transform="translate(43.0 662.9) scale(0.91 1)" class="eq" fill="#FF6D38"><tspan font-weight="bold">y</tspan> = 42.1 + 0.774 · <tspan font-weight="bold">x</tspan>,  <tspan font-weight="bold">r</tspan><tspan dy="-2.9" font-size="5.0">2</tspan><tspan dy="2.9"> = 0.81</tspan></text>
<text transform="translate(39.0 672.4) scale(0.91 1)" class="eq" fill="#40E0D0"><tspan font-weight="bold">y</tspan> = −0.525 + 0.789 · <tspan font-weight="bold">x</tspan>,  <tspan font-weight="bold">r</tspan><tspan dy="-2.9" font-size="5.0">2</tspan><tspan dy="2.9"> = 0.93</tspan></text>
<text x="19.5" y="634.6" class="lab">j</text>
<line x1="240.20" y1="794.90" x2="421.60" y2="644.00" stroke="#b5b5b5" stroke-width="0.75"/>
<circle cx="350.4" cy="678.4" r="1.55" fill="#FF6D38"/>
<circle cx="359.2" cy="676.4" r="1.55" fill="#FF6D38"/>
<circle cx="360.9" cy="682.5" r="1.55" fill="#FF6D38"/>
<circle cx="358.2" cy="692.8" r="1.55" fill="#FF6D38"/>
<circle cx="335.4" cy="707.8" r="1.55" fill="#FF6D38"/>
<circle cx="308.4" cy="722.9" r="1.55" fill="#FF6D38"/>
<circle cx="292.9" cy="714.0" r="1.55" fill="#FF6D38"/>
<circle cx="275.9" cy="725.7" r="1.55" fill="#FF6D38"/>
<circle cx="287.4" cy="727.4" r="1.55" fill="#FF6D38"/>
<circle cx="294.2" cy="731.6" r="1.55" fill="#FF6D38"/>
<circle cx="296.4" cy="731.6" r="1.55" fill="#FF6D38"/>
<circle cx="290.4" cy="736.1" r="1.55" fill="#FF6D38"/>
<circle cx="295.1" cy="739.5" r="1.55" fill="#FF6D38"/>
<circle cx="299.5" cy="740.1" r="1.55" fill="#FF6D38"/>
<circle cx="304.4" cy="737.4" r="1.55" fill="#FF6D38"/>
<circle cx="305.2" cy="746.1" r="1.55" fill="#FF6D38"/>
<circle cx="282.0" cy="746.5" r="1.55" fill="#FF6D38"/>
<circle cx="283.3" cy="746.1" r="1.55" fill="#FF6D38"/>
<circle cx="287.3" cy="747.0" r="1.55" fill="#FF6D38"/>
<circle cx="289.1" cy="746.8" r="1.55" fill="#FF6D38"/>
<circle cx="286.0" cy="748.3" r="1.55" fill="#FF6D38"/>
<circle cx="283.3" cy="750.4" r="1.55" fill="#FF6D38"/>
<circle cx="290.9" cy="750.5" r="1.55" fill="#FF6D38"/>
<circle cx="282.4" cy="753.9" r="1.55" fill="#FF6D38"/>
<circle cx="288.2" cy="758.6" r="1.55" fill="#FF6D38"/>
<circle cx="270.4" cy="754.1" r="1.55" fill="#FF6D38"/>
<circle cx="273.9" cy="754.8" r="1.55" fill="#FF6D38"/>
<circle cx="269.5" cy="755.5" r="1.55" fill="#FF6D38"/>
<circle cx="261.0" cy="755.2" r="1.55" fill="#FF6D38"/>
<circle cx="258.8" cy="756.8" r="1.55" fill="#FF6D38"/>
<circle cx="257.4" cy="758.6" r="1.55" fill="#FF6D38"/>
<circle cx="259.6" cy="759.5" r="1.55" fill="#FF6D38"/>
<circle cx="262.8" cy="759.0" r="1.55" fill="#FF6D38"/>
<circle cx="258.8" cy="760.8" r="1.55" fill="#FF6D38"/>
<circle cx="261.0" cy="762.6" r="1.55" fill="#FF6D38"/>
<circle cx="255.6" cy="764.1" r="1.55" fill="#FF6D38"/>
<circle cx="272.1" cy="762.6" r="1.55" fill="#FF6D38"/>
<circle cx="277.1" cy="758.4" r="1.55" fill="#FF6D38"/>
<circle cx="278.4" cy="761.2" r="1.55" fill="#FF6D38"/>
<circle cx="276.6" cy="763.8" r="1.55" fill="#FF6D38"/>
<circle cx="264.6" cy="766.4" r="1.55" fill="#FF6D38"/>
<circle cx="261.4" cy="768.8" r="1.55" fill="#FF6D38"/>
<circle cx="259.6" cy="769.3" r="1.55" fill="#FF6D38"/>
<circle cx="255.2" cy="772.1" r="1.55" fill="#FF6D38"/>
<circle cx="253.8" cy="773.6" r="1.55" fill="#FF6D38"/>
<circle cx="257.4" cy="773.8" r="1.55" fill="#FF6D38"/>
<circle cx="262.3" cy="775.1" r="1.55" fill="#FF6D38"/>
<circle cx="265.4" cy="773.8" r="1.55" fill="#FF6D38"/>
<circle cx="270.8" cy="769.3" r="1.55" fill="#FF6D38"/>
<circle cx="257.0" cy="775.1" r="1.55" fill="#FF6D38"/>
<circle cx="359.2" cy="690.2" r="1.55" fill="#40E0D0"/>
<circle cx="360.9" cy="696.7" r="1.55" fill="#40E0D0"/>
<circle cx="350.4" cy="700.1" r="1.55" fill="#40E0D0"/>
<circle cx="358.2" cy="700.8" r="1.55" fill="#40E0D0"/>
<circle cx="335.4" cy="723.3" r="1.55" fill="#40E0D0"/>
<circle cx="308.5" cy="735.7" r="1.55" fill="#40E0D0"/>
<circle cx="304.0" cy="738.9" r="1.55" fill="#40E0D0"/>
<circle cx="307.2" cy="740.1" r="1.55" fill="#40E0D0"/>
<circle cx="300.6" cy="742.7" r="1.55" fill="#40E0D0"/>
<circle cx="298.5" cy="745.2" r="1.55" fill="#40E0D0"/>
<circle cx="294.5" cy="747.4" r="1.55" fill="#40E0D0"/>
<circle cx="299.4" cy="747.4" r="1.55" fill="#40E0D0"/>
<circle cx="297.1" cy="748.8" r="1.55" fill="#40E0D0"/>
<circle cx="295.4" cy="750.1" r="1.55" fill="#40E0D0"/>
<circle cx="294.5" cy="751.9" r="1.55" fill="#40E0D0"/>
<circle cx="293.1" cy="753.2" r="1.55" fill="#40E0D0"/>
<circle cx="288.2" cy="751.9" r="1.55" fill="#40E0D0"/>
<circle cx="286.9" cy="754.1" r="1.55" fill="#40E0D0"/>
<circle cx="285.5" cy="755.5" r="1.55" fill="#40E0D0"/>
<circle cx="289.1" cy="755.9" r="1.55" fill="#40E0D0"/>
<circle cx="290.4" cy="757.2" r="1.55" fill="#40E0D0"/>
<circle cx="290.0" cy="761.7" r="1.55" fill="#40E0D0"/>
<circle cx="292.7" cy="763.5" r="1.55" fill="#40E0D0"/>
<circle cx="282.4" cy="757.9" r="1.55" fill="#40E0D0"/>
<circle cx="282.9" cy="760.8" r="1.55" fill="#40E0D0"/>
<circle cx="281.5" cy="762.1" r="1.55" fill="#40E0D0"/>
<circle cx="279.7" cy="763.0" r="1.55" fill="#40E0D0"/>
<circle cx="282.9" cy="768.6" r="1.55" fill="#40E0D0"/>
<circle cx="277.5" cy="766.2" r="1.55" fill="#40E0D0"/>
<circle cx="276.2" cy="767.5" r="1.55" fill="#40E0D0"/>
<circle cx="274.4" cy="768.4" r="1.55" fill="#40E0D0"/>
<circle cx="272.6" cy="769.7" r="1.55" fill="#40E0D0"/>
<circle cx="270.4" cy="772.0" r="1.55" fill="#40E0D0"/>
<circle cx="269.5" cy="774.6" r="1.55" fill="#40E0D0"/>
<circle cx="275.7" cy="772.4" r="1.55" fill="#40E0D0"/>
<circle cx="265.4" cy="775.5" r="1.55" fill="#40E0D0"/>
<circle cx="264.1" cy="780.0" r="1.55" fill="#40E0D0"/>
<circle cx="261.9" cy="778.7" r="1.55" fill="#40E0D0"/>
<circle cx="260.1" cy="779.5" r="1.55" fill="#40E0D0"/>
<circle cx="258.3" cy="779.5" r="1.55" fill="#40E0D0"/>
<circle cx="256.5" cy="780.5" r="1.55" fill="#40E0D0"/>
<circle cx="254.7" cy="781.8" r="1.55" fill="#40E0D0"/>
<circle cx="254.3" cy="785.4" r="1.55" fill="#40E0D0"/>
<circle cx="255.6" cy="787.1" r="1.55" fill="#40E0D0"/>
<circle cx="257.0" cy="783.6" r="1.55" fill="#40E0D0"/>
<circle cx="260.5" cy="781.8" r="1.55" fill="#40E0D0"/>
<circle cx="261.4" cy="783.1" r="1.55" fill="#40E0D0"/>
<circle cx="273.8" cy="781.3" r="1.55" fill="#40E0D0"/>
<circle cx="257.9" cy="785.8" r="1.55" fill="#40E0D0"/>
<line x1="255.04" y1="773.77" x2="360.58" y2="685.98" stroke="#FF6D38" stroke-width="1"/>
<line x1="255.04" y1="785.60" x2="360.58" y2="695.17" stroke="#40E0D0" stroke-width="1"/>
<line x1="240.20" y1="794.90" x2="421.60" y2="794.90" stroke="#4d4d4d" stroke-width="1.1"/>
<line x1="248.45" y1="794.90" x2="248.45" y2="797.50" stroke="#4d4d4d" stroke-width="1.1"/>
<text transform="translate(248.45 806.00) scale(0.945 1)" text-anchor="middle" class="tk">0</text>
<line x1="281.43" y1="794.90" x2="281.43" y2="797.50" stroke="#4d4d4d" stroke-width="1.1"/>
<text transform="translate(281.43 806.00) scale(0.945 1)" text-anchor="middle" class="tk">100</text>
<line x1="314.41" y1="794.90" x2="314.41" y2="797.50" stroke="#4d4d4d" stroke-width="1.1"/>
<text transform="translate(314.41 806.00) scale(0.945 1)" text-anchor="middle" class="tk">200</text>
<line x1="347.39" y1="794.90" x2="347.39" y2="797.50" stroke="#4d4d4d" stroke-width="1.1"/>
<text transform="translate(347.39 806.00) scale(0.945 1)" text-anchor="middle" class="tk">300</text>
<line x1="380.37" y1="794.90" x2="380.37" y2="797.50" stroke="#4d4d4d" stroke-width="1.1"/>
<text transform="translate(380.37 806.00) scale(0.945 1)" text-anchor="middle" class="tk">400</text>
<line x1="413.35" y1="794.90" x2="413.35" y2="797.50" stroke="#4d4d4d" stroke-width="1.1"/>
<text transform="translate(413.35 806.00) scale(0.945 1)" text-anchor="middle" class="tk">500</text>
<text transform="translate(330.90 815.70) scale(1.0 1)" text-anchor="middle" class="tt">K 90th Percentile Biomass Density (Mg/ha)</text>
<text transform="translate(262.5 653.4) scale(0.91 1)" class="eq" fill="#FF6D38"><tspan font-weight="bold">y</tspan> = 32 + 1 · <tspan font-weight="bold">x</tspan>,  <tspan font-weight="bold">r</tspan><tspan dy="-2.9" font-size="5.0">2</tspan><tspan dy="2.9"> = 0.84</tspan></text>
<text transform="translate(266.0 662.9) scale(0.91 1)" class="eq" fill="#40E0D0"><tspan font-weight="bold">y</tspan> = −11.7 + 1.03 · <tspan font-weight="bold">x</tspan>,  <tspan font-weight="bold">r</tspan><tspan dy="-2.9" font-size="5.0">2</tspan><tspan dy="2.9"> = 0.97</tspan></text>
<text x="247.2" y="634.6" class="lab">k</text>
<line x1="471.20" y1="794.90" x2="652.60" y2="644.00" stroke="#b5b5b5" stroke-width="0.75"/>
<circle cx="596.7" cy="676.4" r="1.55" fill="#FF6D38"/>
<circle cx="584.6" cy="678.5" r="1.55" fill="#FF6D38"/>
<circle cx="589.0" cy="682.4" r="1.55" fill="#FF6D38"/>
<circle cx="583.9" cy="692.7" r="1.55" fill="#FF6D38"/>
<circle cx="557.0" cy="707.9" r="1.55" fill="#FF6D38"/>
<circle cx="508.7" cy="714.0" r="1.55" fill="#FF6D38"/>
<circle cx="542.1" cy="722.9" r="1.55" fill="#FF6D38"/>
<circle cx="519.1" cy="727.4" r="1.55" fill="#FF6D38"/>
<circle cx="521.0" cy="731.6" r="1.55" fill="#FF6D38"/>
<circle cx="522.7" cy="731.6" r="1.55" fill="#FF6D38"/>
<circle cx="509.9" cy="736.1" r="1.55" fill="#FF6D38"/>
<circle cx="527.4" cy="739.9" r="1.55" fill="#FF6D38"/>
<circle cx="528.3" cy="739.5" r="1.55" fill="#FF6D38"/>
<circle cx="538.0" cy="737.4" r="1.55" fill="#FF6D38"/>
<circle cx="536.4" cy="739.5" r="1.55" fill="#FF6D38"/>
<circle cx="537.0" cy="741.4" r="1.55" fill="#FF6D38"/>
<circle cx="530.0" cy="743.7" r="1.55" fill="#FF6D38"/>
<circle cx="502.5" cy="746.2" r="1.55" fill="#FF6D38"/>
<circle cx="511.5" cy="747.0" r="1.55" fill="#FF6D38"/>
<circle cx="517.1" cy="747.5" r="1.55" fill="#FF6D38"/>
<circle cx="518.9" cy="748.0" r="1.55" fill="#FF6D38"/>
<circle cx="522.0" cy="747.0" r="1.55" fill="#FF6D38"/>
<circle cx="525.1" cy="746.2" r="1.55" fill="#FF6D38"/>
<circle cx="534.5" cy="745.7" r="1.55" fill="#FF6D38"/>
<circle cx="513.1" cy="750.2" r="1.55" fill="#FF6D38"/>
<circle cx="515.8" cy="751.5" r="1.55" fill="#FF6D38"/>
<circle cx="517.1" cy="752.4" r="1.55" fill="#FF6D38"/>
<circle cx="514.9" cy="753.8" r="1.55" fill="#FF6D38"/>
<circle cx="522.9" cy="750.2" r="1.55" fill="#FF6D38"/>
<circle cx="521.1" cy="752.4" r="1.55" fill="#FF6D38"/>
<circle cx="493.0" cy="755.4" r="1.55" fill="#FF6D38"/>
<circle cx="494.8" cy="755.5" r="1.55" fill="#FF6D38"/>
<circle cx="498.6" cy="754.5" r="1.55" fill="#FF6D38"/>
<circle cx="502.8" cy="755.1" r="1.55" fill="#FF6D38"/>
<circle cx="486.3" cy="757.3" r="1.55" fill="#FF6D38"/>
<circle cx="488.5" cy="757.3" r="1.55" fill="#FF6D38"/>
<circle cx="485.8" cy="759.3" r="1.55" fill="#FF6D38"/>
<circle cx="490.8" cy="758.7" r="1.55" fill="#FF6D38"/>
<circle cx="489.9" cy="760.9" r="1.55" fill="#FF6D38"/>
<circle cx="489.0" cy="762.2" r="1.55" fill="#FF6D38"/>
<circle cx="499.9" cy="762.7" r="1.55" fill="#FF6D38"/>
<circle cx="503.7" cy="762.0" r="1.55" fill="#FF6D38"/>
<circle cx="503.7" cy="763.8" r="1.55" fill="#FF6D38"/>
<circle cx="506.4" cy="758.4" r="1.55" fill="#FF6D38"/>
<circle cx="517.5" cy="758.4" r="1.55" fill="#FF6D38"/>
<circle cx="483.2" cy="764.3" r="1.55" fill="#FF6D38"/>
<circle cx="488.1" cy="766.4" r="1.55" fill="#FF6D38"/>
<circle cx="485.8" cy="768.8" r="1.55" fill="#FF6D38"/>
<circle cx="489.4" cy="768.2" r="1.55" fill="#FF6D38"/>
<circle cx="489.9" cy="769.4" r="1.55" fill="#FF6D38"/>
<circle cx="487.2" cy="772.3" r="1.55" fill="#FF6D38"/>
<circle cx="482.0" cy="773.6" r="1.55" fill="#FF6D38"/>
<circle cx="484.9" cy="774.7" r="1.55" fill="#FF6D38"/>
<circle cx="493.9" cy="774.1" r="1.55" fill="#FF6D38"/>
<circle cx="496.3" cy="769.6" r="1.55" fill="#FF6D38"/>
<circle cx="489.9" cy="775.6" r="1.55" fill="#FF6D38"/>
<circle cx="490.3" cy="776.8" r="1.55" fill="#FF6D38"/>
<circle cx="489.4" cy="778.3" r="1.55" fill="#FF6D38"/>
<circle cx="480.8" cy="783.0" r="1.55" fill="#FF6D38"/>
<circle cx="480.9" cy="785.9" r="1.55" fill="#FF6D38"/>
<circle cx="497.8" cy="725.9" r="1.55" fill="#FF6D38"/>
<line x1="479.45" y1="775.31" x2="597.19" y2="682.85" stroke="#FF6D38" stroke-width="1"/>
<line x1="471.20" y1="794.90" x2="652.60" y2="794.90" stroke="#4d4d4d" stroke-width="1.1"/>
<line x1="479.45" y1="794.90" x2="479.45" y2="797.50" stroke="#4d4d4d" stroke-width="1.1"/>
<text transform="translate(479.45 806.00) scale(0.945 1)" text-anchor="middle" class="tk">0</text>
<line x1="512.43" y1="794.90" x2="512.43" y2="797.50" stroke="#4d4d4d" stroke-width="1.1"/>
<text transform="translate(512.43 806.00) scale(0.945 1)" text-anchor="middle" class="tk">100</text>
<line x1="545.41" y1="794.90" x2="545.41" y2="797.50" stroke="#4d4d4d" stroke-width="1.1"/>
<text transform="translate(545.41 806.00) scale(0.945 1)" text-anchor="middle" class="tk">200</text>
<line x1="578.39" y1="794.90" x2="578.39" y2="797.50" stroke="#4d4d4d" stroke-width="1.1"/>
<text transform="translate(578.39 806.00) scale(0.945 1)" text-anchor="middle" class="tk">300</text>
<line x1="611.37" y1="794.90" x2="611.37" y2="797.50" stroke="#4d4d4d" stroke-width="1.1"/>
<text transform="translate(611.37 806.00) scale(0.945 1)" text-anchor="middle" class="tk">400</text>
<line x1="644.35" y1="794.90" x2="644.35" y2="797.50" stroke="#4d4d4d" stroke-width="1.1"/>
<text transform="translate(644.35 806.00) scale(0.945 1)" text-anchor="middle" class="tk">500</text>
<text transform="translate(561.90 815.70) scale(1.0 1)" text-anchor="middle" class="tt">W 90th Biomass Density (Mg/ha)</text>
<text transform="translate(483.0 653.4) scale(0.91 1)" class="eq" fill="#FF6D38"><tspan font-weight="bold">y</tspan> = 46.4 + 0.944 · <tspan font-weight="bold">x</tspan>,  <tspan font-weight="bold">r</tspan><tspan dy="-2.9" font-size="5.0">2</tspan><tspan dy="2.9"> = 0.81</tspan></text>
<text x="481.4" y="634.6" class="lab">l</text>
<text x="693.2" y="340.3" class="lt">Biomass Maps</text>
<rect x="693.2" y="344.6" width="21.8" height="21.6" fill="#f2f2f2"/>
<circle cx="704.4" cy="355.4" r="1.75" fill="#006400"/>
<text x="717.6" y="359.6" class="lk">K</text>
<rect x="693.2" y="367.3" width="21.8" height="21.6" fill="#f2f2f2"/>
<circle cx="704.4" cy="378.1" r="1.75" fill="#FF6D38"/>
<text x="717.6" y="382.3" class="lk">B</text>
<rect x="693.2" y="390.0" width="21.8" height="21.6" fill="#f2f2f2"/>
<circle cx="704.4" cy="400.8" r="1.75" fill="#40E0D0"/>
<text x="717.6" y="405.0" class="lk">W</text>
</svg></body></html>
